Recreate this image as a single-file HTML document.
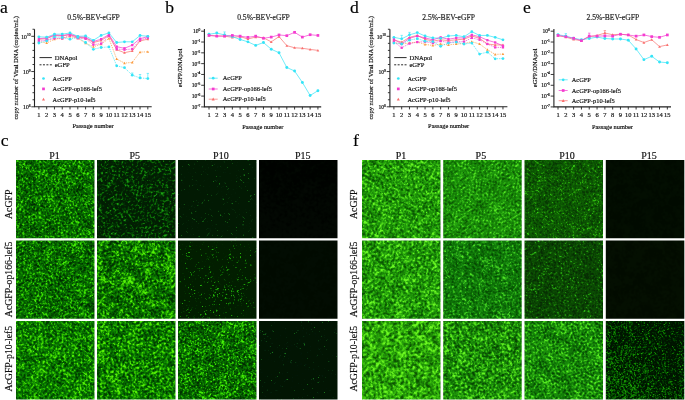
<!DOCTYPE html>
<html lang="en"><head><meta charset="utf-8"><title>Figure</title>
<style>
html,body{margin:0;padding:0;background:#fff;}
body{width:685px;height:400px;overflow:hidden;font-family:"Liberation Serif", "Times New Roman", serif;}
svg{display:block;}
</style></head><body>
<svg width="685" height="400" viewBox="0 0 685 400">
<rect width="685" height="400" fill="#fff"/>
<g font-family='"Liberation Serif", "Times New Roman", serif' stroke="#111" stroke-width="0.18">
<text x="0" y="13.1" font-size="17.6" text-anchor="start" fill="#000">a</text>
<text x="165.2" y="13.1" font-size="17.6" text-anchor="start" fill="#000">b</text>
<text x="350" y="13.1" font-size="17.6" text-anchor="start" fill="#000">d</text>
<text x="523" y="13.1" font-size="17.6" text-anchor="start" fill="#000">e</text>
<text x="0.8" y="145.8" font-size="17.6" text-anchor="start" fill="#000">c</text>
<text x="353" y="146" font-size="17.6" text-anchor="start" fill="#000">f</text>
<path d="M34.5 29.3V106.8H151.7" fill="none" stroke="#222" stroke-width="1.1"/>
<path d="M38.9 106.8v2.6M46.68 106.8v2.6M54.46 106.8v2.6M62.24 106.8v2.6M70.02 106.8v2.6M77.8 106.8v2.6M85.58 106.8v2.6M93.36 106.8v2.6M101.14 106.8v2.6M108.92 106.8v2.6M116.7 106.8v2.6M124.48 106.8v2.6M132.26 106.8v2.6M140.04 106.8v2.6M147.82 106.8v2.6M34.5 36.3h-3.2M34.5 71.55h-3.2M34.5 106.8h-3.2M34.5 29.25h-2M34.5 43.35h-2M34.5 50.4h-2M34.5 57.45h-2M34.5 64.5h-2M34.5 78.6h-2M34.5 85.65h-2M34.5 92.7h-2M34.5 99.75h-2" fill="none" stroke="#222" stroke-width="0.9"/>
<text x="38.9" y="116.5" font-size="6.5" text-anchor="middle" fill="#111">1</text>
<text x="46.68" y="116.5" font-size="6.5" text-anchor="middle" fill="#111">2</text>
<text x="54.46" y="116.5" font-size="6.5" text-anchor="middle" fill="#111">3</text>
<text x="62.24" y="116.5" font-size="6.5" text-anchor="middle" fill="#111">4</text>
<text x="70.02" y="116.5" font-size="6.5" text-anchor="middle" fill="#111">5</text>
<text x="77.8" y="116.5" font-size="6.5" text-anchor="middle" fill="#111">6</text>
<text x="85.58" y="116.5" font-size="6.5" text-anchor="middle" fill="#111">7</text>
<text x="93.36" y="116.5" font-size="6.5" text-anchor="middle" fill="#111">8</text>
<text x="101.14" y="116.5" font-size="6.5" text-anchor="middle" fill="#111">9</text>
<text x="108.92" y="116.5" font-size="6.5" text-anchor="middle" fill="#111">10</text>
<text x="116.7" y="116.5" font-size="6.5" text-anchor="middle" fill="#111">11</text>
<text x="124.48" y="116.5" font-size="6.5" text-anchor="middle" fill="#111">12</text>
<text x="132.26" y="116.5" font-size="6.5" text-anchor="middle" fill="#111">13</text>
<text x="140.04" y="116.5" font-size="6.5" text-anchor="middle" fill="#111">14</text>
<text x="147.82" y="116.5" font-size="6.5" text-anchor="middle" fill="#111">15</text>
<text x="30.5" y="38.5" font-size="5.6" text-anchor="end" fill="#111">10<tspan font-size="3.6" dy="-2.2">10</tspan></text>
<text x="30.5" y="73.75" font-size="5.6" text-anchor="end" fill="#111">10<tspan font-size="3.6" dy="-2.2">9</tspan></text>
<text x="30.5" y="109" font-size="5.6" text-anchor="end" fill="#111">10<tspan font-size="3.6" dy="-2.2">8</tspan></text>
<text x="93.1" y="128.4" font-size="6.35" text-anchor="middle" fill="#111">Passage number</text>
<text transform="translate(18.3 67.9) rotate(-90)" font-size="6.45" text-anchor="middle" fill="#111">copy number of Viral DNA (copies/mL)</text>
<text x="93.5" y="19.6" font-size="7.6" text-anchor="middle" fill="#333">0.5%-BEV-eGFP</text>
<polyline points="38.9,41.5 46.68,43 54.46,39.2 62.24,38.4 70.02,36.5 77.8,38.3 85.58,43.2 93.36,46.8 101.14,44.1 108.92,38.5 116.7,59 124.48,63.1 132.26,62.4 140.04,52.1 147.82,51.8" fill="none" stroke="#fb9a3c" stroke-width="0.7" stroke-dasharray="1.3 1"/>
<polyline points="38.9,43 46.68,40.8 54.46,36.8 62.24,37.5 70.02,39.2 77.8,37.4 85.58,42.5 93.36,49.3 101.14,47.5 108.92,46.9 116.7,65.8 124.48,67.7 132.26,75.2 140.04,77.9 147.82,78.6" fill="none" stroke="#35e4f7" stroke-width="0.7" stroke-dasharray="1.3 1"/>
<polyline points="38.9,41 46.68,40.3 54.46,38.3 62.24,38.5 70.02,35.5 77.8,38.2 85.58,38.8 93.36,44.7 101.14,43.6 108.92,35.9 116.7,49 124.48,49.7 132.26,49 140.04,40 147.82,37.8" fill="none" stroke="#f53bd0" stroke-width="0.7" stroke-dasharray="1.3 1"/>
<polyline points="38.9,39.3 46.68,38.7 54.46,35.5 62.24,36 70.02,34.6 77.8,37.3 85.58,38 93.36,42.5 101.14,40.5 108.92,35.4 116.7,49.7 124.48,52.7 132.26,51 140.04,40.9 147.82,39.2" fill="none" stroke="#f9706e" stroke-width="0.7"/>
<polyline points="38.9,36.8 46.68,37.2 54.46,34.2 62.24,34.1 70.02,33 77.8,36.3 85.58,36 93.36,40.3 101.14,35.4 108.92,32.9 116.7,42.5 124.48,41.8 132.26,41.8 140.04,35.5 147.82,36.3" fill="none" stroke="#35e4f7" stroke-width="0.7"/>
<polyline points="38.9,38.7 46.68,38 54.46,35 62.24,35.5 70.02,34.2 77.8,36.8 85.58,37.4 93.36,41.5 101.14,39.2 108.92,34.6 116.7,46.7 124.48,48.3 132.26,45.1 140.04,38.7 147.82,36.6" fill="none" stroke="#f53bd0" stroke-width="0.7"/>
<path d="M38.9 40.12l1.32 2.42h-2.64z" fill="#fb9a3c" stroke="none"/>
<path d="M46.68 41.62l1.32 2.42h-2.64z" fill="#fb9a3c" stroke="none"/>
<path d="M54.46 37.82l1.32 2.42h-2.64z" fill="#fb9a3c" stroke="none"/>
<path d="M62.24 37.02l1.32 2.42h-2.64z" fill="#fb9a3c" stroke="none"/>
<path d="M70.02 35.12l1.32 2.42h-2.64z" fill="#fb9a3c" stroke="none"/>
<path d="M77.8 36.92l1.32 2.42h-2.64z" fill="#fb9a3c" stroke="none"/>
<path d="M85.58 41.82l1.32 2.42h-2.64z" fill="#fb9a3c" stroke="none"/>
<path d="M93.36 45.42l1.32 2.42h-2.64z" fill="#fb9a3c" stroke="none"/>
<path d="M101.14 42.72l1.32 2.42h-2.64z" fill="#fb9a3c" stroke="none"/>
<path d="M108.92 37.12l1.32 2.42h-2.64z" fill="#fb9a3c" stroke="none"/>
<path d="M116.7 57.62l1.32 2.42h-2.64z" fill="#fb9a3c" stroke="none"/>
<path d="M124.48 61.72l1.32 2.42h-2.64z" fill="#fb9a3c" stroke="none"/>
<path d="M132.26 61.02l1.32 2.42h-2.64z" fill="#fb9a3c" stroke="none"/>
<path d="M140.04 50.72l1.32 2.42h-2.64z" fill="#fb9a3c" stroke="none"/>
<path d="M147.82 50.42l1.32 2.42h-2.64z" fill="#fb9a3c" stroke="none"/>
<path d="M38.9 37.92l1.32 2.42h-2.64z" fill="#f9706e" stroke="none"/>
<path d="M46.68 37.32l1.32 2.42h-2.64z" fill="#f9706e" stroke="none"/>
<path d="M54.46 34.12l1.32 2.42h-2.64z" fill="#f9706e" stroke="none"/>
<path d="M62.24 34.62l1.32 2.42h-2.64z" fill="#f9706e" stroke="none"/>
<path d="M70.02 33.22l1.32 2.42h-2.64z" fill="#f9706e" stroke="none"/>
<path d="M77.8 35.92l1.32 2.42h-2.64z" fill="#f9706e" stroke="none"/>
<path d="M85.58 36.62l1.32 2.42h-2.64z" fill="#f9706e" stroke="none"/>
<path d="M93.36 41.12l1.32 2.42h-2.64z" fill="#f9706e" stroke="none"/>
<path d="M101.14 39.12l1.32 2.42h-2.64z" fill="#f9706e" stroke="none"/>
<path d="M108.92 34.02l1.32 2.42h-2.64z" fill="#f9706e" stroke="none"/>
<path d="M116.7 48.32l1.32 2.42h-2.64z" fill="#f9706e" stroke="none"/>
<path d="M124.48 51.32l1.32 2.42h-2.64z" fill="#f9706e" stroke="none"/>
<path d="M132.26 49.62l1.32 2.42h-2.64z" fill="#f9706e" stroke="none"/>
<path d="M140.04 39.52l1.32 2.42h-2.64z" fill="#f9706e" stroke="none"/>
<path d="M147.82 37.82l1.32 2.42h-2.64z" fill="#f9706e" stroke="none"/>
<rect x="37.75" y="39.85" width="2.3" height="2.3" fill="#f53bd0" stroke="none"/>
<rect x="45.53" y="39.15" width="2.3" height="2.3" fill="#f53bd0" stroke="none"/>
<rect x="53.31" y="37.15" width="2.3" height="2.3" fill="#f53bd0" stroke="none"/>
<rect x="61.09" y="37.35" width="2.3" height="2.3" fill="#f53bd0" stroke="none"/>
<rect x="68.87" y="34.35" width="2.3" height="2.3" fill="#f53bd0" stroke="none"/>
<rect x="76.65" y="37.05" width="2.3" height="2.3" fill="#f53bd0" stroke="none"/>
<rect x="84.43" y="37.65" width="2.3" height="2.3" fill="#f53bd0" stroke="none"/>
<rect x="92.21" y="43.55" width="2.3" height="2.3" fill="#f53bd0" stroke="none"/>
<rect x="99.99" y="42.45" width="2.3" height="2.3" fill="#f53bd0" stroke="none"/>
<rect x="107.77" y="34.75" width="2.3" height="2.3" fill="#f53bd0" stroke="none"/>
<rect x="115.55" y="47.85" width="2.3" height="2.3" fill="#f53bd0" stroke="none"/>
<rect x="123.33" y="48.55" width="2.3" height="2.3" fill="#f53bd0" stroke="none"/>
<rect x="131.11" y="47.85" width="2.3" height="2.3" fill="#f53bd0" stroke="none"/>
<rect x="138.89" y="38.85" width="2.3" height="2.3" fill="#f53bd0" stroke="none"/>
<rect x="146.67" y="36.65" width="2.3" height="2.3" fill="#f53bd0" stroke="none"/>
<rect x="37.75" y="37.55" width="2.3" height="2.3" fill="#f53bd0" stroke="none"/>
<rect x="45.53" y="36.85" width="2.3" height="2.3" fill="#f53bd0" stroke="none"/>
<rect x="53.31" y="33.85" width="2.3" height="2.3" fill="#f53bd0" stroke="none"/>
<rect x="61.09" y="34.35" width="2.3" height="2.3" fill="#f53bd0" stroke="none"/>
<rect x="68.87" y="33.05" width="2.3" height="2.3" fill="#f53bd0" stroke="none"/>
<rect x="76.65" y="35.65" width="2.3" height="2.3" fill="#f53bd0" stroke="none"/>
<rect x="84.43" y="36.25" width="2.3" height="2.3" fill="#f53bd0" stroke="none"/>
<rect x="92.21" y="40.35" width="2.3" height="2.3" fill="#f53bd0" stroke="none"/>
<rect x="99.99" y="38.05" width="2.3" height="2.3" fill="#f53bd0" stroke="none"/>
<rect x="107.77" y="33.45" width="2.3" height="2.3" fill="#f53bd0" stroke="none"/>
<rect x="115.55" y="45.55" width="2.3" height="2.3" fill="#f53bd0" stroke="none"/>
<rect x="123.33" y="47.15" width="2.3" height="2.3" fill="#f53bd0" stroke="none"/>
<rect x="131.11" y="43.95" width="2.3" height="2.3" fill="#f53bd0" stroke="none"/>
<rect x="138.89" y="37.55" width="2.3" height="2.3" fill="#f53bd0" stroke="none"/>
<rect x="146.67" y="35.45" width="2.3" height="2.3" fill="#f53bd0" stroke="none"/>
<circle cx="38.9" cy="43" r="1.4" fill="#35e4f7" stroke="none"/>
<circle cx="46.68" cy="40.8" r="1.4" fill="#35e4f7" stroke="none"/>
<circle cx="54.46" cy="36.8" r="1.4" fill="#35e4f7" stroke="none"/>
<circle cx="62.24" cy="37.5" r="1.4" fill="#35e4f7" stroke="none"/>
<circle cx="70.02" cy="39.2" r="1.4" fill="#35e4f7" stroke="none"/>
<circle cx="77.8" cy="37.4" r="1.4" fill="#35e4f7" stroke="none"/>
<circle cx="85.58" cy="42.5" r="1.4" fill="#35e4f7" stroke="none"/>
<circle cx="93.36" cy="49.3" r="1.4" fill="#35e4f7" stroke="none"/>
<circle cx="101.14" cy="47.5" r="1.4" fill="#35e4f7" stroke="none"/>
<circle cx="108.92" cy="46.9" r="1.4" fill="#35e4f7" stroke="none"/>
<circle cx="116.7" cy="65.8" r="1.4" fill="#35e4f7" stroke="none"/>
<circle cx="124.48" cy="67.7" r="1.4" fill="#35e4f7" stroke="none"/>
<circle cx="132.26" cy="75.2" r="1.4" fill="#35e4f7" stroke="none"/>
<circle cx="140.04" cy="77.9" r="1.4" fill="#35e4f7" stroke="none"/>
<circle cx="147.82" cy="78.6" r="1.4" fill="#35e4f7" stroke="none"/>
<circle cx="38.9" cy="36.8" r="1.4" fill="#35e4f7" stroke="none"/>
<circle cx="46.68" cy="37.2" r="1.4" fill="#35e4f7" stroke="none"/>
<circle cx="54.46" cy="34.2" r="1.4" fill="#35e4f7" stroke="none"/>
<circle cx="62.24" cy="34.1" r="1.4" fill="#35e4f7" stroke="none"/>
<circle cx="70.02" cy="33" r="1.4" fill="#35e4f7" stroke="none"/>
<circle cx="77.8" cy="36.3" r="1.4" fill="#35e4f7" stroke="none"/>
<circle cx="85.58" cy="36" r="1.4" fill="#35e4f7" stroke="none"/>
<circle cx="93.36" cy="40.3" r="1.4" fill="#35e4f7" stroke="none"/>
<circle cx="101.14" cy="35.4" r="1.4" fill="#35e4f7" stroke="none"/>
<circle cx="108.92" cy="32.9" r="1.4" fill="#35e4f7" stroke="none"/>
<circle cx="116.7" cy="42.5" r="1.4" fill="#35e4f7" stroke="none"/>
<circle cx="124.48" cy="41.8" r="1.4" fill="#35e4f7" stroke="none"/>
<circle cx="132.26" cy="41.8" r="1.4" fill="#35e4f7" stroke="none"/>
<circle cx="140.04" cy="35.5" r="1.4" fill="#35e4f7" stroke="none"/>
<circle cx="147.82" cy="36.3" r="1.4" fill="#35e4f7" stroke="none"/>
<path d="M39.5 57.6h12.4" stroke="#111" stroke-width="0.9"/>
<path d="M39.5 64.8h12.4" stroke="#111" stroke-width="0.9" stroke-dasharray="2 1.45"/>
<text x="54.7" y="59.8" font-size="6.6" text-anchor="start" fill="#111">DNApol</text>
<text x="54.7" y="67" font-size="6.6" text-anchor="start" fill="#111">eGFP</text>
<circle cx="43.5" cy="78.5" r="1.35" fill="#35e4f7" stroke="none"/>
<text x="52.6" y="80.6" font-size="6.4" text-anchor="start" fill="#111">AcGFP</text>
<rect x="42.15" y="87.55" width="2.7" height="2.7" fill="#f53bd0" stroke="none"/>
<text x="52.6" y="91" font-size="6.4" text-anchor="start" fill="#111">AcGFP-op166-lef5</text>
<path d="M43.5 97.78l1.55 2.84h-3.1z" fill="#f9706e" stroke="none"/>
<text x="52.6" y="101.5" font-size="6.4" text-anchor="start" fill="#111">AcGFP-p10-lef5</text>
<path d="M132.26 75.2V73M131.06 73h2.4" stroke="#35e4f7" stroke-width="0.6" fill="none"/>
<path d="M140.04 77.9V74.5M138.84 74.5h2.4" stroke="#35e4f7" stroke-width="0.6" fill="none"/>
<path d="M147.82 78.6V73.4M146.62 73.4h2.4" stroke="#35e4f7" stroke-width="0.6" fill="none"/>
<path d="M204.4 29V106.9H321.2" fill="none" stroke="#222" stroke-width="1.1"/>
<path d="M209 106.9v2.6M216.78 106.9v2.6M224.56 106.9v2.6M232.34 106.9v2.6M240.12 106.9v2.6M247.9 106.9v2.6M255.68 106.9v2.6M263.46 106.9v2.6M271.24 106.9v2.6M279.02 106.9v2.6M286.8 106.9v2.6M294.58 106.9v2.6M302.36 106.9v2.6M310.14 106.9v2.6M317.92 106.9v2.6M204.4 31.2h-3.2M204.4 42.02h-3.2M204.4 52.83h-3.2M204.4 63.64h-3.2M204.4 74.46h-3.2M204.4 85.27h-3.2M204.4 96.09h-3.2M204.4 106.91h-3.2" fill="none" stroke="#222" stroke-width="0.9"/>
<text x="209" y="116.6" font-size="6.5" text-anchor="middle" fill="#111">1</text>
<text x="216.78" y="116.6" font-size="6.5" text-anchor="middle" fill="#111">2</text>
<text x="224.56" y="116.6" font-size="6.5" text-anchor="middle" fill="#111">3</text>
<text x="232.34" y="116.6" font-size="6.5" text-anchor="middle" fill="#111">4</text>
<text x="240.12" y="116.6" font-size="6.5" text-anchor="middle" fill="#111">5</text>
<text x="247.9" y="116.6" font-size="6.5" text-anchor="middle" fill="#111">6</text>
<text x="255.68" y="116.6" font-size="6.5" text-anchor="middle" fill="#111">7</text>
<text x="263.46" y="116.6" font-size="6.5" text-anchor="middle" fill="#111">8</text>
<text x="271.24" y="116.6" font-size="6.5" text-anchor="middle" fill="#111">9</text>
<text x="279.02" y="116.6" font-size="6.5" text-anchor="middle" fill="#111">10</text>
<text x="286.8" y="116.6" font-size="6.5" text-anchor="middle" fill="#111">11</text>
<text x="294.58" y="116.6" font-size="6.5" text-anchor="middle" fill="#111">12</text>
<text x="302.36" y="116.6" font-size="6.5" text-anchor="middle" fill="#111">13</text>
<text x="310.14" y="116.6" font-size="6.5" text-anchor="middle" fill="#111">14</text>
<text x="317.92" y="116.6" font-size="6.5" text-anchor="middle" fill="#111">15</text>
<text x="200.4" y="33.4" font-size="5.6" text-anchor="end" fill="#111">10<tspan font-size="3.6" dy="-2.2">0</tspan></text>
<text x="200.4" y="44.22" font-size="5.6" text-anchor="end" fill="#111">10<tspan font-size="3.6" dy="-2.2">-1</tspan></text>
<text x="200.4" y="55.03" font-size="5.6" text-anchor="end" fill="#111">10<tspan font-size="3.6" dy="-2.2">-2</tspan></text>
<text x="200.4" y="65.84" font-size="5.6" text-anchor="end" fill="#111">10<tspan font-size="3.6" dy="-2.2">-3</tspan></text>
<text x="200.4" y="76.66" font-size="5.6" text-anchor="end" fill="#111">10<tspan font-size="3.6" dy="-2.2">-4</tspan></text>
<text x="200.4" y="87.47" font-size="5.6" text-anchor="end" fill="#111">10<tspan font-size="3.6" dy="-2.2">-5</tspan></text>
<text x="200.4" y="98.29" font-size="5.6" text-anchor="end" fill="#111">10<tspan font-size="3.6" dy="-2.2">-6</tspan></text>
<text x="200.4" y="109.11" font-size="5.6" text-anchor="end" fill="#111">10<tspan font-size="3.6" dy="-2.2">-7</tspan></text>
<text x="262.8" y="128.5" font-size="6.35" text-anchor="middle" fill="#111">Passage number</text>
<text transform="translate(181.5 67.9) rotate(-90)" font-size="6.45" text-anchor="middle" fill="#111">eGFP/DNApol</text>
<text x="263.5" y="19.6" font-size="7.6" text-anchor="middle" fill="#333">0.5%-BEV-eGFP</text>
<polyline points="209,35.43 216.78,35.9 224.56,36.14 232.34,37.33 240.12,36.62 247.9,38.99 255.68,37.09 263.46,37.8 271.24,41.84 279.02,36.62 286.8,45.63 294.58,47.77 302.36,48.25 310.14,49.43 317.92,50.38" fill="none" stroke="#f9706e" stroke-width="0.7"/>
<polyline points="209,34.24 216.78,33.05 224.56,34.95 232.34,36.62 240.12,39.46 247.9,41.84 255.68,45.4 263.46,42.55 271.24,49.2 279.02,52.76 286.8,67.47 294.58,71.03 302.36,82.43 310.14,95.48 317.92,90.73" fill="none" stroke="#35e4f7" stroke-width="0.7"/>
<polyline points="209,35.43 216.78,36.14 224.56,36.14 232.34,35.43 240.12,36.14 247.9,37.33 255.68,36.14 263.46,38.28 271.24,37.09 279.02,34.95 286.8,35.67 294.58,32.34 302.36,37.09 310.14,34.72 317.92,35.43" fill="none" stroke="#f53bd0" stroke-width="0.7"/>
<path d="M209 33.99l1.38 2.52h-2.76z" fill="#f9706e" stroke="none"/>
<path d="M216.78 34.46l1.38 2.52h-2.76z" fill="#f9706e" stroke="none"/>
<path d="M224.56 34.7l1.38 2.52h-2.76z" fill="#f9706e" stroke="none"/>
<path d="M232.34 35.89l1.38 2.52h-2.76z" fill="#f9706e" stroke="none"/>
<path d="M240.12 35.18l1.38 2.52h-2.76z" fill="#f9706e" stroke="none"/>
<path d="M247.9 37.55l1.38 2.52h-2.76z" fill="#f9706e" stroke="none"/>
<path d="M255.68 35.65l1.38 2.52h-2.76z" fill="#f9706e" stroke="none"/>
<path d="M263.46 36.36l1.38 2.52h-2.76z" fill="#f9706e" stroke="none"/>
<path d="M271.24 40.4l1.38 2.52h-2.76z" fill="#f9706e" stroke="none"/>
<path d="M279.02 35.18l1.38 2.52h-2.76z" fill="#f9706e" stroke="none"/>
<path d="M286.8 44.19l1.38 2.52h-2.76z" fill="#f9706e" stroke="none"/>
<path d="M294.58 46.33l1.38 2.52h-2.76z" fill="#f9706e" stroke="none"/>
<path d="M302.36 46.81l1.38 2.52h-2.76z" fill="#f9706e" stroke="none"/>
<path d="M310.14 47.99l1.38 2.52h-2.76z" fill="#f9706e" stroke="none"/>
<path d="M317.92 48.94l1.38 2.52h-2.76z" fill="#f9706e" stroke="none"/>
<circle cx="209" cy="34.24" r="1.45" fill="#35e4f7" stroke="none"/>
<circle cx="216.78" cy="33.05" r="1.45" fill="#35e4f7" stroke="none"/>
<circle cx="224.56" cy="34.95" r="1.45" fill="#35e4f7" stroke="none"/>
<circle cx="232.34" cy="36.62" r="1.45" fill="#35e4f7" stroke="none"/>
<circle cx="240.12" cy="39.46" r="1.45" fill="#35e4f7" stroke="none"/>
<circle cx="247.9" cy="41.84" r="1.45" fill="#35e4f7" stroke="none"/>
<circle cx="255.68" cy="45.4" r="1.45" fill="#35e4f7" stroke="none"/>
<circle cx="263.46" cy="42.55" r="1.45" fill="#35e4f7" stroke="none"/>
<circle cx="271.24" cy="49.2" r="1.45" fill="#35e4f7" stroke="none"/>
<circle cx="279.02" cy="52.76" r="1.45" fill="#35e4f7" stroke="none"/>
<circle cx="286.8" cy="67.47" r="1.45" fill="#35e4f7" stroke="none"/>
<circle cx="294.58" cy="71.03" r="1.45" fill="#35e4f7" stroke="none"/>
<circle cx="302.36" cy="82.43" r="1.45" fill="#35e4f7" stroke="none"/>
<circle cx="310.14" cy="95.48" r="1.45" fill="#35e4f7" stroke="none"/>
<circle cx="317.92" cy="90.73" r="1.45" fill="#35e4f7" stroke="none"/>
<rect x="207.65" y="34.08" width="2.7" height="2.7" fill="#f53bd0" stroke="none"/>
<rect x="215.43" y="34.79" width="2.7" height="2.7" fill="#f53bd0" stroke="none"/>
<rect x="223.21" y="34.79" width="2.7" height="2.7" fill="#f53bd0" stroke="none"/>
<rect x="230.99" y="34.08" width="2.7" height="2.7" fill="#f53bd0" stroke="none"/>
<rect x="238.77" y="34.79" width="2.7" height="2.7" fill="#f53bd0" stroke="none"/>
<rect x="246.55" y="35.98" width="2.7" height="2.7" fill="#f53bd0" stroke="none"/>
<rect x="254.33" y="34.79" width="2.7" height="2.7" fill="#f53bd0" stroke="none"/>
<rect x="262.11" y="36.93" width="2.7" height="2.7" fill="#f53bd0" stroke="none"/>
<rect x="269.89" y="35.74" width="2.7" height="2.7" fill="#f53bd0" stroke="none"/>
<rect x="277.67" y="33.6" width="2.7" height="2.7" fill="#f53bd0" stroke="none"/>
<rect x="285.45" y="34.32" width="2.7" height="2.7" fill="#f53bd0" stroke="none"/>
<rect x="293.23" y="30.99" width="2.7" height="2.7" fill="#f53bd0" stroke="none"/>
<rect x="301.01" y="35.74" width="2.7" height="2.7" fill="#f53bd0" stroke="none"/>
<rect x="308.79" y="33.37" width="2.7" height="2.7" fill="#f53bd0" stroke="none"/>
<rect x="316.57" y="34.08" width="2.7" height="2.7" fill="#f53bd0" stroke="none"/>
<path d="M208.7 78.2h9" stroke="#35e4f7" stroke-width="0.7"/>
<circle cx="213.2" cy="78.2" r="1.35" fill="#35e4f7" stroke="none"/>
<text x="222.7" y="80.3" font-size="6.4" text-anchor="start" fill="#111">AcGFP</text>
<path d="M208.7 89h9" stroke="#f53bd0" stroke-width="0.7"/>
<rect x="211.85" y="87.65" width="2.7" height="2.7" fill="#f53bd0" stroke="none"/>
<text x="222.7" y="91.1" font-size="6.4" text-anchor="start" fill="#111">AcGFP-op166-lef5</text>
<path d="M208.7 99.2h9" stroke="#f9706e" stroke-width="0.7"/>
<path d="M213.2 97.58l1.55 2.84h-3.1z" fill="#f9706e" stroke="none"/>
<text x="222.7" y="101.3" font-size="6.4" text-anchor="start" fill="#111">AcGFP-p10-lef5</text>
<path d="M224.56 34.95V31.95M223.36 31.95h2.4" stroke="#35e4f7" stroke-width="0.6" fill="none"/>
<path d="M389.9 29.3V106.8H507.4" fill="none" stroke="#222" stroke-width="1.1"/>
<path d="M393.9 106.8v2.6M401.69 106.8v2.6M409.48 106.8v2.6M417.27 106.8v2.6M425.06 106.8v2.6M432.85 106.8v2.6M440.64 106.8v2.6M448.43 106.8v2.6M456.22 106.8v2.6M464.01 106.8v2.6M471.8 106.8v2.6M479.59 106.8v2.6M487.38 106.8v2.6M495.17 106.8v2.6M502.96 106.8v2.6M389.9 36.3h-3.2M389.9 71.55h-3.2M389.9 106.8h-3.2M389.9 29.25h-2M389.9 43.35h-2M389.9 50.4h-2M389.9 57.45h-2M389.9 64.5h-2M389.9 78.6h-2M389.9 85.65h-2M389.9 92.7h-2M389.9 99.75h-2" fill="none" stroke="#222" stroke-width="0.9"/>
<text x="393.9" y="116.5" font-size="6.5" text-anchor="middle" fill="#111">1</text>
<text x="401.69" y="116.5" font-size="6.5" text-anchor="middle" fill="#111">2</text>
<text x="409.48" y="116.5" font-size="6.5" text-anchor="middle" fill="#111">3</text>
<text x="417.27" y="116.5" font-size="6.5" text-anchor="middle" fill="#111">4</text>
<text x="425.06" y="116.5" font-size="6.5" text-anchor="middle" fill="#111">5</text>
<text x="432.85" y="116.5" font-size="6.5" text-anchor="middle" fill="#111">6</text>
<text x="440.64" y="116.5" font-size="6.5" text-anchor="middle" fill="#111">7</text>
<text x="448.43" y="116.5" font-size="6.5" text-anchor="middle" fill="#111">8</text>
<text x="456.22" y="116.5" font-size="6.5" text-anchor="middle" fill="#111">9</text>
<text x="464.01" y="116.5" font-size="6.5" text-anchor="middle" fill="#111">10</text>
<text x="471.8" y="116.5" font-size="6.5" text-anchor="middle" fill="#111">11</text>
<text x="479.59" y="116.5" font-size="6.5" text-anchor="middle" fill="#111">12</text>
<text x="487.38" y="116.5" font-size="6.5" text-anchor="middle" fill="#111">13</text>
<text x="495.17" y="116.5" font-size="6.5" text-anchor="middle" fill="#111">14</text>
<text x="502.96" y="116.5" font-size="6.5" text-anchor="middle" fill="#111">15</text>
<text x="385.9" y="38.5" font-size="5.6" text-anchor="end" fill="#111">10<tspan font-size="3.6" dy="-2.2">10</tspan></text>
<text x="385.9" y="73.75" font-size="5.6" text-anchor="end" fill="#111">10<tspan font-size="3.6" dy="-2.2">9</tspan></text>
<text x="385.9" y="109" font-size="5.6" text-anchor="end" fill="#111">10<tspan font-size="3.6" dy="-2.2">8</tspan></text>
<text x="448.65" y="128.4" font-size="6.35" text-anchor="middle" fill="#111">Passage number</text>
<text transform="translate(373 67.9) rotate(-90)" font-size="6.45" text-anchor="middle" fill="#111">copy number of Viral DNA (copies/mL)</text>
<text x="448.6" y="19.6" font-size="7.6" text-anchor="middle" fill="#333">2.5%-BEV-eGFP</text>
<polyline points="393.9,42.46 401.69,43.98 409.48,43.03 417.27,42.08 425.06,44.35 432.85,45.49 440.64,43.98 448.43,44.92 456.22,43.98 464.01,43.6 471.8,41.7 479.59,43.98 487.38,49.67 495.17,54.41 502.96,54.03" fill="none" stroke="#fb9a3c" stroke-width="0.7" stroke-dasharray="1.3 1"/>
<polyline points="393.9,43.03 401.69,43.98 409.48,40.18 417.27,38.66 425.06,41.13 432.85,41.7 440.64,46.25 448.43,43.03 456.22,42.08 464.01,43.98 471.8,43.03 479.59,54.03 487.38,52.13 495.17,58.78 502.96,58.59" fill="none" stroke="#35e4f7" stroke-width="0.7" stroke-dasharray="1.3 1"/>
<polyline points="393.9,41.7 401.69,47.77 409.48,43.6 417.27,42.08 425.06,41.7 432.85,43.03 440.64,41.13 448.43,42.46 456.22,41.7 464.01,41.7 471.8,37.9 479.59,39.8 487.38,43.98 495.17,47.39 502.96,47.39" fill="none" stroke="#f53bd0" stroke-width="0.7" stroke-dasharray="1.3 1"/>
<polyline points="393.9,40.18 401.69,42.08 409.48,37.33 417.27,35.44 425.06,39.23 432.85,41.13 440.64,39.8 448.43,40.56 456.22,39.8 464.01,39.23 471.8,36.01 479.59,38.28 487.38,43.98 495.17,44.92 502.96,44.92" fill="none" stroke="#f9706e" stroke-width="0.7"/>
<polyline points="393.9,37.33 401.69,38.85 409.48,34.87 417.27,32.59 425.06,36.01 432.85,37.9 440.64,38.28 448.43,36.01 456.22,35.44 464.01,36.76 471.8,31.64 479.59,35.44 487.38,35.44 495.17,37.33 502.96,39.8" fill="none" stroke="#35e4f7" stroke-width="0.7"/>
<polyline points="393.9,39.23 401.69,43.98 409.48,38.28 417.27,36.01 425.06,37.9 432.85,39.8 440.64,37.33 448.43,39.23 456.22,37.9 464.01,37.9 471.8,34.87 479.59,36.76 487.38,40.18 495.17,42.46 502.96,45.87" fill="none" stroke="#f53bd0" stroke-width="0.7"/>
<path d="M393.9 41.08l1.32 2.42h-2.64z" fill="#fb9a3c" stroke="none"/>
<path d="M401.69 42.6l1.32 2.42h-2.64z" fill="#fb9a3c" stroke="none"/>
<path d="M409.48 41.65l1.32 2.42h-2.64z" fill="#fb9a3c" stroke="none"/>
<path d="M417.27 40.7l1.32 2.42h-2.64z" fill="#fb9a3c" stroke="none"/>
<path d="M425.06 42.97l1.32 2.42h-2.64z" fill="#fb9a3c" stroke="none"/>
<path d="M432.85 44.11l1.32 2.42h-2.64z" fill="#fb9a3c" stroke="none"/>
<path d="M440.64 42.6l1.32 2.42h-2.64z" fill="#fb9a3c" stroke="none"/>
<path d="M448.43 43.54l1.32 2.42h-2.64z" fill="#fb9a3c" stroke="none"/>
<path d="M456.22 42.6l1.32 2.42h-2.64z" fill="#fb9a3c" stroke="none"/>
<path d="M464.01 42.22l1.32 2.42h-2.64z" fill="#fb9a3c" stroke="none"/>
<path d="M471.8 40.32l1.32 2.42h-2.64z" fill="#fb9a3c" stroke="none"/>
<path d="M479.59 42.6l1.32 2.42h-2.64z" fill="#fb9a3c" stroke="none"/>
<path d="M487.38 48.29l1.32 2.42h-2.64z" fill="#fb9a3c" stroke="none"/>
<path d="M495.17 53.03l1.32 2.42h-2.64z" fill="#fb9a3c" stroke="none"/>
<path d="M502.96 52.65l1.32 2.42h-2.64z" fill="#fb9a3c" stroke="none"/>
<path d="M393.9 38.8l1.32 2.42h-2.64z" fill="#f9706e" stroke="none"/>
<path d="M401.69 40.7l1.32 2.42h-2.64z" fill="#f9706e" stroke="none"/>
<path d="M409.48 35.95l1.32 2.42h-2.64z" fill="#f9706e" stroke="none"/>
<path d="M417.27 34.06l1.32 2.42h-2.64z" fill="#f9706e" stroke="none"/>
<path d="M425.06 37.85l1.32 2.42h-2.64z" fill="#f9706e" stroke="none"/>
<path d="M432.85 39.75l1.32 2.42h-2.64z" fill="#f9706e" stroke="none"/>
<path d="M440.64 38.42l1.32 2.42h-2.64z" fill="#f9706e" stroke="none"/>
<path d="M448.43 39.18l1.32 2.42h-2.64z" fill="#f9706e" stroke="none"/>
<path d="M456.22 38.42l1.32 2.42h-2.64z" fill="#f9706e" stroke="none"/>
<path d="M464.01 37.85l1.32 2.42h-2.64z" fill="#f9706e" stroke="none"/>
<path d="M471.8 34.63l1.32 2.42h-2.64z" fill="#f9706e" stroke="none"/>
<path d="M479.59 36.9l1.32 2.42h-2.64z" fill="#f9706e" stroke="none"/>
<path d="M487.38 42.6l1.32 2.42h-2.64z" fill="#f9706e" stroke="none"/>
<path d="M495.17 43.54l1.32 2.42h-2.64z" fill="#f9706e" stroke="none"/>
<path d="M502.96 43.54l1.32 2.42h-2.64z" fill="#f9706e" stroke="none"/>
<rect x="392.75" y="40.55" width="2.3" height="2.3" fill="#f53bd0" stroke="none"/>
<rect x="400.54" y="46.62" width="2.3" height="2.3" fill="#f53bd0" stroke="none"/>
<rect x="408.33" y="42.45" width="2.3" height="2.3" fill="#f53bd0" stroke="none"/>
<rect x="416.12" y="40.93" width="2.3" height="2.3" fill="#f53bd0" stroke="none"/>
<rect x="423.91" y="40.55" width="2.3" height="2.3" fill="#f53bd0" stroke="none"/>
<rect x="431.7" y="41.88" width="2.3" height="2.3" fill="#f53bd0" stroke="none"/>
<rect x="439.49" y="39.98" width="2.3" height="2.3" fill="#f53bd0" stroke="none"/>
<rect x="447.28" y="41.31" width="2.3" height="2.3" fill="#f53bd0" stroke="none"/>
<rect x="455.07" y="40.55" width="2.3" height="2.3" fill="#f53bd0" stroke="none"/>
<rect x="462.86" y="40.55" width="2.3" height="2.3" fill="#f53bd0" stroke="none"/>
<rect x="470.65" y="36.75" width="2.3" height="2.3" fill="#f53bd0" stroke="none"/>
<rect x="478.44" y="38.65" width="2.3" height="2.3" fill="#f53bd0" stroke="none"/>
<rect x="486.23" y="42.83" width="2.3" height="2.3" fill="#f53bd0" stroke="none"/>
<rect x="494.02" y="46.24" width="2.3" height="2.3" fill="#f53bd0" stroke="none"/>
<rect x="501.81" y="46.24" width="2.3" height="2.3" fill="#f53bd0" stroke="none"/>
<rect x="392.75" y="38.08" width="2.3" height="2.3" fill="#f53bd0" stroke="none"/>
<rect x="400.54" y="42.83" width="2.3" height="2.3" fill="#f53bd0" stroke="none"/>
<rect x="408.33" y="37.13" width="2.3" height="2.3" fill="#f53bd0" stroke="none"/>
<rect x="416.12" y="34.86" width="2.3" height="2.3" fill="#f53bd0" stroke="none"/>
<rect x="423.91" y="36.75" width="2.3" height="2.3" fill="#f53bd0" stroke="none"/>
<rect x="431.7" y="38.65" width="2.3" height="2.3" fill="#f53bd0" stroke="none"/>
<rect x="439.49" y="36.18" width="2.3" height="2.3" fill="#f53bd0" stroke="none"/>
<rect x="447.28" y="38.08" width="2.3" height="2.3" fill="#f53bd0" stroke="none"/>
<rect x="455.07" y="36.75" width="2.3" height="2.3" fill="#f53bd0" stroke="none"/>
<rect x="462.86" y="36.75" width="2.3" height="2.3" fill="#f53bd0" stroke="none"/>
<rect x="470.65" y="33.72" width="2.3" height="2.3" fill="#f53bd0" stroke="none"/>
<rect x="478.44" y="35.61" width="2.3" height="2.3" fill="#f53bd0" stroke="none"/>
<rect x="486.23" y="39.03" width="2.3" height="2.3" fill="#f53bd0" stroke="none"/>
<rect x="494.02" y="41.31" width="2.3" height="2.3" fill="#f53bd0" stroke="none"/>
<rect x="501.81" y="44.72" width="2.3" height="2.3" fill="#f53bd0" stroke="none"/>
<circle cx="393.9" cy="43.03" r="1.4" fill="#35e4f7" stroke="none"/>
<circle cx="401.69" cy="43.98" r="1.4" fill="#35e4f7" stroke="none"/>
<circle cx="409.48" cy="40.18" r="1.4" fill="#35e4f7" stroke="none"/>
<circle cx="417.27" cy="38.66" r="1.4" fill="#35e4f7" stroke="none"/>
<circle cx="425.06" cy="41.13" r="1.4" fill="#35e4f7" stroke="none"/>
<circle cx="432.85" cy="41.7" r="1.4" fill="#35e4f7" stroke="none"/>
<circle cx="440.64" cy="46.25" r="1.4" fill="#35e4f7" stroke="none"/>
<circle cx="448.43" cy="43.03" r="1.4" fill="#35e4f7" stroke="none"/>
<circle cx="456.22" cy="42.08" r="1.4" fill="#35e4f7" stroke="none"/>
<circle cx="464.01" cy="43.98" r="1.4" fill="#35e4f7" stroke="none"/>
<circle cx="471.8" cy="43.03" r="1.4" fill="#35e4f7" stroke="none"/>
<circle cx="479.59" cy="54.03" r="1.4" fill="#35e4f7" stroke="none"/>
<circle cx="487.38" cy="52.13" r="1.4" fill="#35e4f7" stroke="none"/>
<circle cx="495.17" cy="58.78" r="1.4" fill="#35e4f7" stroke="none"/>
<circle cx="502.96" cy="58.59" r="1.4" fill="#35e4f7" stroke="none"/>
<circle cx="393.9" cy="37.33" r="1.4" fill="#35e4f7" stroke="none"/>
<circle cx="401.69" cy="38.85" r="1.4" fill="#35e4f7" stroke="none"/>
<circle cx="409.48" cy="34.87" r="1.4" fill="#35e4f7" stroke="none"/>
<circle cx="417.27" cy="32.59" r="1.4" fill="#35e4f7" stroke="none"/>
<circle cx="425.06" cy="36.01" r="1.4" fill="#35e4f7" stroke="none"/>
<circle cx="432.85" cy="37.9" r="1.4" fill="#35e4f7" stroke="none"/>
<circle cx="440.64" cy="38.28" r="1.4" fill="#35e4f7" stroke="none"/>
<circle cx="448.43" cy="36.01" r="1.4" fill="#35e4f7" stroke="none"/>
<circle cx="456.22" cy="35.44" r="1.4" fill="#35e4f7" stroke="none"/>
<circle cx="464.01" cy="36.76" r="1.4" fill="#35e4f7" stroke="none"/>
<circle cx="471.8" cy="31.64" r="1.4" fill="#35e4f7" stroke="none"/>
<circle cx="479.59" cy="35.44" r="1.4" fill="#35e4f7" stroke="none"/>
<circle cx="487.38" cy="35.44" r="1.4" fill="#35e4f7" stroke="none"/>
<circle cx="495.17" cy="37.33" r="1.4" fill="#35e4f7" stroke="none"/>
<circle cx="502.96" cy="39.8" r="1.4" fill="#35e4f7" stroke="none"/>
<path d="M394.2 57.6h12.4" stroke="#111" stroke-width="0.9"/>
<path d="M394.2 64.8h12.4" stroke="#111" stroke-width="0.9" stroke-dasharray="2 1.45"/>
<text x="409.4" y="59.8" font-size="6.6" text-anchor="start" fill="#111">DNApol</text>
<text x="409.4" y="67" font-size="6.6" text-anchor="start" fill="#111">eGFP</text>
<circle cx="398.3" cy="78.5" r="1.35" fill="#35e4f7" stroke="none"/>
<text x="407.5" y="80.6" font-size="6.4" text-anchor="start" fill="#111">AcGFP</text>
<rect x="396.95" y="87.55" width="2.7" height="2.7" fill="#f53bd0" stroke="none"/>
<text x="407.5" y="91" font-size="6.4" text-anchor="start" fill="#111">AcGFP-op166-lef5</text>
<path d="M398.3 97.78l1.55 2.84h-3.1z" fill="#f9706e" stroke="none"/>
<text x="407.5" y="101.5" font-size="6.4" text-anchor="start" fill="#111">AcGFP-p10-lef5</text>
<path d="M401.69 38.85V35.35M400.49 35.35h2.4" stroke="#35e4f7" stroke-width="0.6" fill="none"/>
<path d="M409.48 34.87V32.37M408.28 32.37h2.4" stroke="#35e4f7" stroke-width="0.6" fill="none"/>
<path d="M553.9 29V106.9H671" fill="none" stroke="#222" stroke-width="1.1"/>
<path d="M558 106.9v2.6M565.81 106.9v2.6M573.62 106.9v2.6M581.43 106.9v2.6M589.24 106.9v2.6M597.05 106.9v2.6M604.86 106.9v2.6M612.67 106.9v2.6M620.48 106.9v2.6M628.29 106.9v2.6M636.1 106.9v2.6M643.91 106.9v2.6M651.72 106.9v2.6M659.53 106.9v2.6M667.34 106.9v2.6M553.9 31.2h-3.2M553.9 42.02h-3.2M553.9 52.83h-3.2M553.9 63.64h-3.2M553.9 74.46h-3.2M553.9 85.27h-3.2M553.9 96.09h-3.2M553.9 106.91h-3.2" fill="none" stroke="#222" stroke-width="0.9"/>
<text x="558" y="116.6" font-size="6.5" text-anchor="middle" fill="#111">1</text>
<text x="565.81" y="116.6" font-size="6.5" text-anchor="middle" fill="#111">2</text>
<text x="573.62" y="116.6" font-size="6.5" text-anchor="middle" fill="#111">3</text>
<text x="581.43" y="116.6" font-size="6.5" text-anchor="middle" fill="#111">4</text>
<text x="589.24" y="116.6" font-size="6.5" text-anchor="middle" fill="#111">5</text>
<text x="597.05" y="116.6" font-size="6.5" text-anchor="middle" fill="#111">6</text>
<text x="604.86" y="116.6" font-size="6.5" text-anchor="middle" fill="#111">7</text>
<text x="612.67" y="116.6" font-size="6.5" text-anchor="middle" fill="#111">8</text>
<text x="620.48" y="116.6" font-size="6.5" text-anchor="middle" fill="#111">9</text>
<text x="628.29" y="116.6" font-size="6.5" text-anchor="middle" fill="#111">10</text>
<text x="636.1" y="116.6" font-size="6.5" text-anchor="middle" fill="#111">11</text>
<text x="643.91" y="116.6" font-size="6.5" text-anchor="middle" fill="#111">12</text>
<text x="651.72" y="116.6" font-size="6.5" text-anchor="middle" fill="#111">13</text>
<text x="659.53" y="116.6" font-size="6.5" text-anchor="middle" fill="#111">14</text>
<text x="667.34" y="116.6" font-size="6.5" text-anchor="middle" fill="#111">15</text>
<text x="549.9" y="33.4" font-size="5.6" text-anchor="end" fill="#111">10<tspan font-size="3.6" dy="-2.2">0</tspan></text>
<text x="549.9" y="44.22" font-size="5.6" text-anchor="end" fill="#111">10<tspan font-size="3.6" dy="-2.2">-1</tspan></text>
<text x="549.9" y="55.03" font-size="5.6" text-anchor="end" fill="#111">10<tspan font-size="3.6" dy="-2.2">-2</tspan></text>
<text x="549.9" y="65.84" font-size="5.6" text-anchor="end" fill="#111">10<tspan font-size="3.6" dy="-2.2">-3</tspan></text>
<text x="549.9" y="76.66" font-size="5.6" text-anchor="end" fill="#111">10<tspan font-size="3.6" dy="-2.2">-4</tspan></text>
<text x="549.9" y="87.47" font-size="5.6" text-anchor="end" fill="#111">10<tspan font-size="3.6" dy="-2.2">-5</tspan></text>
<text x="549.9" y="98.29" font-size="5.6" text-anchor="end" fill="#111">10<tspan font-size="3.6" dy="-2.2">-6</tspan></text>
<text x="549.9" y="109.11" font-size="5.6" text-anchor="end" fill="#111">10<tspan font-size="3.6" dy="-2.2">-7</tspan></text>
<text x="612.45" y="128.5" font-size="6.35" text-anchor="middle" fill="#111">Passage number</text>
<text transform="translate(536.9 67.9) rotate(-90)" font-size="6.45" text-anchor="middle" fill="#111">eGFP/DNApol</text>
<text x="612.8" y="19.6" font-size="7.6" text-anchor="middle" fill="#333">2.5%-BEV-eGFP</text>
<polyline points="558,35.67 565.81,37.09 573.62,39.46 581.43,40.65 589.24,36.62 597.05,35.43 604.86,33.05 612.67,34.72 620.48,34.24 628.29,34.95 636.1,39.46 643.91,42.55 651.72,39.7 659.53,46.58 667.34,44.92" fill="none" stroke="#f9706e" stroke-width="0.7"/>
<polyline points="558,34.72 565.81,36.14 573.62,38.28 581.43,39.7 589.24,38.51 597.05,37.09 604.86,38.51 612.67,38.99 620.48,38.99 628.29,40.18 636.1,48.96 643.91,59.64 651.72,56.32 659.53,62.01 667.34,62.72" fill="none" stroke="#35e4f7" stroke-width="0.7"/>
<polyline points="558,35.43 565.81,36.62 573.62,38.28 581.43,40.65 589.24,36.14 597.05,36.14 604.86,35.9 612.67,36.14 620.48,34.24 628.29,34.95 636.1,36.14 643.91,34.95 651.72,36.62 659.53,37.33 667.34,34.95" fill="none" stroke="#f53bd0" stroke-width="0.7"/>
<path d="M558 34.23l1.38 2.52h-2.76z" fill="#f9706e" stroke="none"/>
<path d="M565.81 35.65l1.38 2.52h-2.76z" fill="#f9706e" stroke="none"/>
<path d="M573.62 38.02l1.38 2.52h-2.76z" fill="#f9706e" stroke="none"/>
<path d="M581.43 39.21l1.38 2.52h-2.76z" fill="#f9706e" stroke="none"/>
<path d="M589.24 35.18l1.38 2.52h-2.76z" fill="#f9706e" stroke="none"/>
<path d="M597.05 33.99l1.38 2.52h-2.76z" fill="#f9706e" stroke="none"/>
<path d="M604.86 31.61l1.38 2.52h-2.76z" fill="#f9706e" stroke="none"/>
<path d="M612.67 33.28l1.38 2.52h-2.76z" fill="#f9706e" stroke="none"/>
<path d="M620.48 32.8l1.38 2.52h-2.76z" fill="#f9706e" stroke="none"/>
<path d="M628.29 33.51l1.38 2.52h-2.76z" fill="#f9706e" stroke="none"/>
<path d="M636.1 38.02l1.38 2.52h-2.76z" fill="#f9706e" stroke="none"/>
<path d="M643.91 41.11l1.38 2.52h-2.76z" fill="#f9706e" stroke="none"/>
<path d="M651.72 38.26l1.38 2.52h-2.76z" fill="#f9706e" stroke="none"/>
<path d="M659.53 45.14l1.38 2.52h-2.76z" fill="#f9706e" stroke="none"/>
<path d="M667.34 43.48l1.38 2.52h-2.76z" fill="#f9706e" stroke="none"/>
<circle cx="558" cy="34.72" r="1.45" fill="#35e4f7" stroke="none"/>
<circle cx="565.81" cy="36.14" r="1.45" fill="#35e4f7" stroke="none"/>
<circle cx="573.62" cy="38.28" r="1.45" fill="#35e4f7" stroke="none"/>
<circle cx="581.43" cy="39.7" r="1.45" fill="#35e4f7" stroke="none"/>
<circle cx="589.24" cy="38.51" r="1.45" fill="#35e4f7" stroke="none"/>
<circle cx="597.05" cy="37.09" r="1.45" fill="#35e4f7" stroke="none"/>
<circle cx="604.86" cy="38.51" r="1.45" fill="#35e4f7" stroke="none"/>
<circle cx="612.67" cy="38.99" r="1.45" fill="#35e4f7" stroke="none"/>
<circle cx="620.48" cy="38.99" r="1.45" fill="#35e4f7" stroke="none"/>
<circle cx="628.29" cy="40.18" r="1.45" fill="#35e4f7" stroke="none"/>
<circle cx="636.1" cy="48.96" r="1.45" fill="#35e4f7" stroke="none"/>
<circle cx="643.91" cy="59.64" r="1.45" fill="#35e4f7" stroke="none"/>
<circle cx="651.72" cy="56.32" r="1.45" fill="#35e4f7" stroke="none"/>
<circle cx="659.53" cy="62.01" r="1.45" fill="#35e4f7" stroke="none"/>
<circle cx="667.34" cy="62.72" r="1.45" fill="#35e4f7" stroke="none"/>
<rect x="556.65" y="34.08" width="2.7" height="2.7" fill="#f53bd0" stroke="none"/>
<rect x="564.46" y="35.27" width="2.7" height="2.7" fill="#f53bd0" stroke="none"/>
<rect x="572.27" y="36.93" width="2.7" height="2.7" fill="#f53bd0" stroke="none"/>
<rect x="580.08" y="39.3" width="2.7" height="2.7" fill="#f53bd0" stroke="none"/>
<rect x="587.89" y="34.79" width="2.7" height="2.7" fill="#f53bd0" stroke="none"/>
<rect x="595.7" y="34.79" width="2.7" height="2.7" fill="#f53bd0" stroke="none"/>
<rect x="603.51" y="34.55" width="2.7" height="2.7" fill="#f53bd0" stroke="none"/>
<rect x="611.32" y="34.79" width="2.7" height="2.7" fill="#f53bd0" stroke="none"/>
<rect x="619.13" y="32.89" width="2.7" height="2.7" fill="#f53bd0" stroke="none"/>
<rect x="626.94" y="33.6" width="2.7" height="2.7" fill="#f53bd0" stroke="none"/>
<rect x="634.75" y="34.79" width="2.7" height="2.7" fill="#f53bd0" stroke="none"/>
<rect x="642.56" y="33.6" width="2.7" height="2.7" fill="#f53bd0" stroke="none"/>
<rect x="650.37" y="35.27" width="2.7" height="2.7" fill="#f53bd0" stroke="none"/>
<rect x="658.18" y="35.98" width="2.7" height="2.7" fill="#f53bd0" stroke="none"/>
<rect x="665.99" y="33.6" width="2.7" height="2.7" fill="#f53bd0" stroke="none"/>
<path d="M558.7 79.8h9" stroke="#35e4f7" stroke-width="0.7"/>
<circle cx="563.2" cy="79.8" r="1.35" fill="#35e4f7" stroke="none"/>
<text x="571.7" y="81.9" font-size="6.4" text-anchor="start" fill="#111">AcGFP</text>
<path d="M558.7 90.5h9" stroke="#f53bd0" stroke-width="0.7"/>
<rect x="561.85" y="89.15" width="2.7" height="2.7" fill="#f53bd0" stroke="none"/>
<text x="571.7" y="92.6" font-size="6.4" text-anchor="start" fill="#111">AcGFP-op166-lef5</text>
<path d="M558.7 100.7h9" stroke="#f9706e" stroke-width="0.7"/>
<path d="M563.2 99.08l1.55 2.84h-3.1z" fill="#f9706e" stroke="none"/>
<text x="571.7" y="102.8" font-size="6.4" text-anchor="start" fill="#111">AcGFP-p10-lef5</text>
<path d="M565.81 36.14V33.64M564.61 33.64h2.4" stroke="#35e4f7" stroke-width="0.6" fill="none"/>
<path d="M589.24 36.14V33.14M588.04 33.14h2.4" stroke="#f53bd0" stroke-width="0.6" fill="none"/>
<path d="M604.86 33.05V30.55M603.66 30.55h2.4" stroke="#f9706e" stroke-width="0.6" fill="none"/>
<defs>
<filter id="c11" x="0" y="0" width="100%" height="100%" color-interpolation-filters="sRGB"><feTurbulence type="fractalNoise" baseFrequency="0.52" numOctaves="3" seed="6"/><feColorMatrix type="matrix" values="1 0 0 0 0  1 0 0 0 0  1 0 0 0 0  0 0 0 0 1" result="h"/><feTurbulence type="fractalNoise" baseFrequency="0.09" numOctaves="2" seed="106"/><feColorMatrix type="matrix" values="1 0 0 0 0  1 0 0 0 0  1 0 0 0 0  0 0 0 0 1" result="l"/><feComposite in="h" in2="l" operator="arithmetic" k1="0" k2="1" k3="0.3" k4="-0.15" result="n"/><feComponentTransfer><feFuncR type="table" tableValues="0 0 0 0 0 0 0 0 0 0.002 0.004 0.008 0.012 0.016 0.02 0.024 0.028 0.042 0.067 0.099 0.136 0.175 0.212 0.244 0.268 0.279 0.28 0.28 0.28 0.28 0.28 0.28 0.28"/><feFuncG type="table" tableValues="0.17 0.17 0.17 0.17 0.17 0.17 0.17 0.17 0.173 0.187 0.21 0.24 0.275 0.312 0.349 0.382 0.416 0.468 0.529 0.595 0.668 0.742 0.811 0.868 0.907 0.92 0.92 0.92 0.92 0.92 0.92 0.92 0.92"/><feFuncB type="table" tableValues="0 0 0 0 0 0 0 0 0 0 0 0 0 0 0 0 0 0 0 0 0 0.004 0.01 0.019 0.028 0.037 0.044 0.049 0.05 0.05 0.05 0.05 0.05"/></feComponentTransfer></filter>
<filter id="c12" x="0" y="0" width="100%" height="100%" color-interpolation-filters="sRGB"><feTurbulence type="fractalNoise" baseFrequency="0.46" numOctaves="3" seed="11"/><feColorMatrix type="matrix" values="1 0 0 0 0  1 0 0 0 0  1 0 0 0 0  0 0 0 0 1" result="h"/><feTurbulence type="fractalNoise" baseFrequency="0.09" numOctaves="2" seed="111"/><feColorMatrix type="matrix" values="1 0 0 0 0  1 0 0 0 0  1 0 0 0 0  0 0 0 0 1" result="l"/><feComposite in="h" in2="l" operator="arithmetic" k1="0" k2="1" k3="0.3" k4="-0.15" result="n"/><feComponentTransfer><feFuncR type="table" tableValues="0.008 0.008 0.008 0.008 0.008 0.008 0.008 0.008 0.008 0.008 0.008 0.008 0.008 0.008 0.008 0.008 0.008 0.008 0.012 0.021 0.035 0.051 0.068 0.085 0.1 0.112 0.119 0.12 0.12 0.12 0.12 0.12 0.12"/><feFuncG type="table" tableValues="0.12 0.12 0.12 0.12 0.12 0.12 0.12 0.12 0.12 0.12 0.12 0.12 0.12 0.12 0.12 0.128 0.152 0.189 0.236 0.291 0.351 0.412 0.471 0.526 0.573 0.61 0.633 0.64 0.64 0.64 0.64 0.64 0.64"/><feFuncB type="table" tableValues="0.015 0.015 0.015 0.015 0.015 0.015 0.015 0.015 0.015 0.015 0.015 0.015 0.015 0.015 0.015 0.015 0.015 0.015 0.015 0.015 0.018 0.028 0.041 0.057 0.073 0.086 0.096 0.1 0.1 0.1 0.1 0.1 0.1"/></feComponentTransfer></filter>
<filter id="c13" x="0" y="0" width="100%" height="100%" color-interpolation-filters="sRGB"><feTurbulence type="fractalNoise" baseFrequency="0.5" numOctaves="3" seed="16"/><feColorMatrix type="matrix" values="1 0 0 0 0  1 0 0 0 0  1 0 0 0 0  0 0 0 0 1" result="h"/><feTurbulence type="fractalNoise" baseFrequency="0.09" numOctaves="2" seed="116"/><feColorMatrix type="matrix" values="1 0 0 0 0  1 0 0 0 0  1 0 0 0 0  0 0 0 0 1" result="l"/><feComposite in="h" in2="l" operator="arithmetic" k1="0" k2="1" k3="0.2" k4="-0.1" result="n"/><feComponentTransfer><feFuncR type="table" tableValues="0.01 0.01 0.01 0.01 0.01 0.01 0.01 0.01 0.01 0.01 0.01 0.01 0.01 0.01 0.01 0.01 0.01 0.01 0.01 0.01 0.01 0.013 0.029 0.054 0.079 0.097 0.1 0.1 0.1 0.1 0.1 0.1 0.1"/><feFuncG type="table" tableValues="0.105 0.105 0.105 0.105 0.105 0.105 0.105 0.105 0.105 0.105 0.105 0.105 0.105 0.105 0.105 0.105 0.105 0.105 0.105 0.105 0.105 0.116 0.189 0.298 0.408 0.485 0.5 0.5 0.5 0.5 0.5 0.5 0.5"/><feFuncB type="table" tableValues="0.015 0.015 0.015 0.015 0.015 0.015 0.015 0.015 0.015 0.015 0.015 0.015 0.015 0.015 0.015 0.015 0.015 0.015 0.015 0.015 0.018 0.028 0.041 0.057 0.073 0.086 0.096 0.1 0.1 0.1 0.1 0.1 0.1"/></feComponentTransfer></filter>
<filter id="c14" x="0" y="0" width="100%" height="100%" color-interpolation-filters="sRGB"><feTurbulence type="fractalNoise" baseFrequency="0.33" numOctaves="3" seed="21"/><feColorMatrix type="matrix" values="1 0 0 0 0  1 0 0 0 0  1 0 0 0 0  0 0 0 0 1" result="h"/><feTurbulence type="fractalNoise" baseFrequency="0.09" numOctaves="2" seed="121"/><feColorMatrix type="matrix" values="1 0 0 0 0  1 0 0 0 0  1 0 0 0 0  0 0 0 0 1" result="l"/><feComposite in="h" in2="l" operator="arithmetic" k1="0" k2="1" k3="0.5" k4="-0.25" result="n"/><feComposite in="n" in2="SourceGraphic" operator="arithmetic" k1="0" k2="1" k3="1" k4="-0.5"/><feComponentTransfer><feFuncR type="table" tableValues="0 0 0 0 0 0 0 0 0 0.001 0.001 0.002 0.002 0.003 0.004 0.005 0.006 0.007 0.008 0.009 0.01 0.01 0.011 0.011 0.012 0.012 0.012 0.012 0.012 0.012 0.012 0.012 0.012"/><feFuncG type="table" tableValues="0.01 0.01 0.01 0.01 0.01 0.01 0.01 0.01 0.01 0.011 0.012 0.014 0.015 0.017 0.019 0.021 0.022 0.024 0.026 0.028 0.03 0.031 0.033 0.034 0.035 0.035 0.035 0.035 0.035 0.035 0.035 0.035 0.035"/><feFuncB type="table" tableValues="0 0 0 0 0 0 0 0 0 0.001 0.001 0.002 0.002 0.003 0.004 0.005 0.006 0.007 0.008 0.009 0.01 0.01 0.011 0.011 0.012 0.012 0.012 0.012 0.012 0.012 0.012 0.012 0.012"/></feComponentTransfer></filter>
<filter id="c21" x="0" y="0" width="100%" height="100%" color-interpolation-filters="sRGB"><feTurbulence type="fractalNoise" baseFrequency="0.52" numOctaves="3" seed="26"/><feColorMatrix type="matrix" values="1 0 0 0 0  1 0 0 0 0  1 0 0 0 0  0 0 0 0 1" result="h"/><feTurbulence type="fractalNoise" baseFrequency="0.09" numOctaves="2" seed="126"/><feColorMatrix type="matrix" values="1 0 0 0 0  1 0 0 0 0  1 0 0 0 0  0 0 0 0 1" result="l"/><feComposite in="h" in2="l" operator="arithmetic" k1="0" k2="1" k3="0.3" k4="-0.15" result="n"/><feComponentTransfer><feFuncR type="table" tableValues="0 0 0 0 0 0 0 0 0 0.002 0.004 0.008 0.012 0.016 0.02 0.024 0.028 0.042 0.067 0.099 0.136 0.175 0.212 0.244 0.268 0.279 0.28 0.28 0.28 0.28 0.28 0.28 0.28"/><feFuncG type="table" tableValues="0.17 0.17 0.17 0.17 0.17 0.17 0.17 0.17 0.173 0.187 0.21 0.24 0.275 0.312 0.349 0.382 0.416 0.468 0.529 0.595 0.668 0.742 0.811 0.868 0.907 0.92 0.92 0.92 0.92 0.92 0.92 0.92 0.92"/><feFuncB type="table" tableValues="0 0 0 0 0 0 0 0 0 0 0 0 0 0 0 0 0 0 0 0 0 0.004 0.01 0.019 0.028 0.037 0.044 0.049 0.05 0.05 0.05 0.05 0.05"/></feComponentTransfer></filter>
<filter id="c22" x="0" y="0" width="100%" height="100%" color-interpolation-filters="sRGB"><feTurbulence type="fractalNoise" baseFrequency="0.46" numOctaves="3" seed="31"/><feColorMatrix type="matrix" values="1 0 0 0 0  1 0 0 0 0  1 0 0 0 0  0 0 0 0 1" result="h"/><feTurbulence type="fractalNoise" baseFrequency="0.09" numOctaves="2" seed="131"/><feColorMatrix type="matrix" values="1 0 0 0 0  1 0 0 0 0  1 0 0 0 0  0 0 0 0 1" result="l"/><feComposite in="h" in2="l" operator="arithmetic" k1="0" k2="1" k3="0.45" k4="-0.23" result="n"/><feComponentTransfer><feFuncR type="table" tableValues="0 0 0 0 0 0 0 0 0 0.002 0.006 0.01 0.016 0.021 0.027 0.031 0.039 0.062 0.096 0.137 0.183 0.229 0.272 0.308 0.332 0.34 0.34 0.34 0.34 0.34 0.34 0.34 0.34"/><feFuncG type="table" tableValues="0.18 0.18 0.18 0.18 0.18 0.18 0.18 0.18 0.183 0.198 0.223 0.256 0.293 0.333 0.372 0.408 0.451 0.51 0.576 0.644 0.717 0.789 0.853 0.904 0.934 0.94 0.94 0.94 0.94 0.94 0.94 0.94 0.94"/><feFuncB type="table" tableValues="0 0 0 0 0 0 0 0 0 0 0 0 0 0 0 0 0 0 0 0 0 0.004 0.01 0.019 0.028 0.037 0.044 0.049 0.05 0.05 0.05 0.05 0.05"/></feComponentTransfer></filter>
<filter id="c23" x="0" y="0" width="100%" height="100%" color-interpolation-filters="sRGB"><feTurbulence type="fractalNoise" baseFrequency="0.6" numOctaves="3" seed="36"/><feColorMatrix type="matrix" values="1 0 0 0 0  1 0 0 0 0  1 0 0 0 0  0 0 0 0 1" result="h"/><feTurbulence type="fractalNoise" baseFrequency="0.09" numOctaves="2" seed="136"/><feColorMatrix type="matrix" values="1 0 0 0 0  1 0 0 0 0  1 0 0 0 0  0 0 0 0 1" result="l"/><feComposite in="h" in2="l" operator="arithmetic" k1="0" k2="1" k3="0.3" k4="-0.15" result="n"/><feComposite in="n" in2="SourceGraphic" operator="arithmetic" k1="0" k2="1" k3="0.35" k4="-0.17"/><feComponentTransfer><feFuncR type="table" tableValues="0.01 0.01 0.01 0.01 0.01 0.01 0.01 0.01 0.01 0.01 0.01 0.01 0.01 0.01 0.01 0.01 0.01 0.01 0.01 0.01 0.01 0.013 0.031 0.061 0.096 0.129 0.152 0.16 0.16 0.16 0.16 0.16 0.16"/><feFuncG type="table" tableValues="0.12 0.12 0.12 0.12 0.12 0.12 0.12 0.12 0.12 0.12 0.12 0.12 0.12 0.12 0.12 0.12 0.12 0.12 0.12 0.12 0.128 0.188 0.291 0.415 0.54 0.645 0.709 0.72 0.72 0.72 0.72 0.72 0.72"/><feFuncB type="table" tableValues="0 0 0 0 0 0 0 0 0 0 0 0 0 0 0 0 0 0 0 0 0 0.004 0.01 0.019 0.028 0.037 0.044 0.049 0.05 0.05 0.05 0.05 0.05"/></feComponentTransfer></filter>
<filter id="c24" x="0" y="0" width="100%" height="100%" color-interpolation-filters="sRGB"><feTurbulence type="fractalNoise" baseFrequency="0.33" numOctaves="3" seed="41"/><feColorMatrix type="matrix" values="1 0 0 0 0  1 0 0 0 0  1 0 0 0 0  0 0 0 0 1" result="h"/><feTurbulence type="fractalNoise" baseFrequency="0.09" numOctaves="2" seed="141"/><feColorMatrix type="matrix" values="1 0 0 0 0  1 0 0 0 0  1 0 0 0 0  0 0 0 0 1" result="l"/><feComposite in="h" in2="l" operator="arithmetic" k1="0" k2="1" k3="1" k4="-0.5" result="n"/><feComponentTransfer><feFuncR type="table" tableValues="0.005 0.005 0.005 0.005 0.005 0.005 0.005 0.005 0.005 0.005 0.005 0.005 0.006 0.006 0.007 0.007 0.007 0.008 0.008 0.009 0.009 0.01 0.01 0.01 0.01 0.01 0.01 0.01 0.01 0.01 0.01 0.01 0.01"/><feFuncG type="table" tableValues="0.04 0.04 0.04 0.04 0.04 0.04 0.04 0.04 0.04 0.04 0.04 0.041 0.042 0.042 0.043 0.044 0.045 0.046 0.047 0.048 0.048 0.049 0.05 0.05 0.05 0.05 0.05 0.05 0.05 0.05 0.05 0.05 0.05"/><feFuncB type="table" tableValues="0 0 0 0 0 0 0 0 0 0 0 0.001 0.002 0.002 0.003 0.004 0.005 0.006 0.007 0.008 0.008 0.009 0.01 0.01 0.01 0.01 0.01 0.01 0.01 0.01 0.01 0.01 0.01"/></feComponentTransfer></filter>
<filter id="c31" x="0" y="0" width="100%" height="100%" color-interpolation-filters="sRGB"><feTurbulence type="fractalNoise" baseFrequency="0.47" numOctaves="3" seed="46"/><feColorMatrix type="matrix" values="1 0 0 0 0  1 0 0 0 0  1 0 0 0 0  0 0 0 0 1" result="h"/><feTurbulence type="fractalNoise" baseFrequency="0.09" numOctaves="2" seed="146"/><feColorMatrix type="matrix" values="1 0 0 0 0  1 0 0 0 0  1 0 0 0 0  0 0 0 0 1" result="l"/><feComposite in="h" in2="l" operator="arithmetic" k1="0" k2="1" k3="0.3" k4="-0.15" result="n"/><feComponentTransfer><feFuncR type="table" tableValues="0 0 0 0 0 0 0 0 0 0.002 0.006 0.01 0.016 0.021 0.027 0.031 0.037 0.054 0.084 0.123 0.168 0.214 0.259 0.297 0.325 0.339 0.34 0.34 0.34 0.34 0.34 0.34 0.34"/><feFuncG type="table" tableValues="0.22 0.22 0.22 0.22 0.22 0.22 0.22 0.22 0.223 0.237 0.261 0.293 0.329 0.368 0.406 0.44 0.475 0.524 0.581 0.642 0.709 0.777 0.84 0.892 0.928 0.94 0.94 0.94 0.94 0.94 0.94 0.94 0.94"/><feFuncB type="table" tableValues="0 0 0 0 0 0 0 0 0 0 0 0 0 0 0 0 0 0 0 0 0 0.004 0.01 0.019 0.028 0.037 0.044 0.049 0.05 0.05 0.05 0.05 0.05"/></feComponentTransfer></filter>
<filter id="c32" x="0" y="0" width="100%" height="100%" color-interpolation-filters="sRGB"><feTurbulence type="fractalNoise" baseFrequency="0.44" numOctaves="3" seed="51"/><feColorMatrix type="matrix" values="1 0 0 0 0  1 0 0 0 0  1 0 0 0 0  0 0 0 0 1" result="h"/><feTurbulence type="fractalNoise" baseFrequency="0.09" numOctaves="2" seed="151"/><feColorMatrix type="matrix" values="1 0 0 0 0  1 0 0 0 0  1 0 0 0 0  0 0 0 0 1" result="l"/><feComposite in="h" in2="l" operator="arithmetic" k1="0" k2="1" k3="0.3" k4="-0.15" result="n"/><feComponentTransfer><feFuncR type="table" tableValues="0 0 0 0 0 0 0 0 0 0.002 0.006 0.01 0.016 0.021 0.027 0.031 0.04 0.063 0.099 0.143 0.192 0.242 0.287 0.325 0.351 0.36 0.36 0.36 0.36 0.36 0.36 0.36 0.36"/><feFuncG type="table" tableValues="0.2 0.2 0.2 0.2 0.2 0.2 0.2 0.2 0.203 0.218 0.244 0.278 0.317 0.358 0.399 0.436 0.48 0.538 0.602 0.667 0.736 0.805 0.867 0.915 0.944 0.95 0.95 0.95 0.95 0.95 0.95 0.95 0.95"/><feFuncB type="table" tableValues="0 0 0 0 0 0 0 0 0 0 0 0 0 0 0 0 0 0 0 0 0 0.004 0.01 0.019 0.028 0.037 0.044 0.049 0.05 0.05 0.05 0.05 0.05"/></feComponentTransfer></filter>
<filter id="c33" x="0" y="0" width="100%" height="100%" color-interpolation-filters="sRGB"><feTurbulence type="fractalNoise" baseFrequency="0.56" numOctaves="3" seed="56"/><feColorMatrix type="matrix" values="1 0 0 0 0  1 0 0 0 0  1 0 0 0 0  0 0 0 0 1" result="h"/><feTurbulence type="fractalNoise" baseFrequency="0.09" numOctaves="2" seed="156"/><feColorMatrix type="matrix" values="1 0 0 0 0  1 0 0 0 0  1 0 0 0 0  0 0 0 0 1" result="l"/><feComposite in="h" in2="l" operator="arithmetic" k1="0" k2="1" k3="0.3" k4="-0.15" result="n"/><feComponentTransfer><feFuncR type="table" tableValues="0 0 0 0 0 0 0 0 0 0.002 0.004 0.008 0.012 0.016 0.02 0.024 0.028 0.043 0.07 0.105 0.145 0.187 0.227 0.262 0.287 0.299 0.3 0.3 0.3 0.3 0.3 0.3 0.3"/><feFuncG type="table" tableValues="0.16 0.16 0.16 0.16 0.16 0.16 0.16 0.16 0.163 0.176 0.198 0.228 0.262 0.297 0.332 0.365 0.406 0.468 0.54 0.616 0.698 0.779 0.852 0.909 0.943 0.95 0.95 0.95 0.95 0.95 0.95 0.95 0.95"/><feFuncB type="table" tableValues="0 0 0 0 0 0 0 0 0 0 0 0 0 0 0 0 0 0 0 0 0 0.004 0.01 0.019 0.028 0.037 0.044 0.049 0.05 0.05 0.05 0.05 0.05"/></feComponentTransfer></filter>
<filter id="c34" x="0" y="0" width="100%" height="100%" color-interpolation-filters="sRGB"><feTurbulence type="fractalNoise" baseFrequency="0.52" numOctaves="3" seed="61"/><feColorMatrix type="matrix" values="1 0 0 0 0  1 0 0 0 0  1 0 0 0 0  0 0 0 0 1" result="h"/><feTurbulence type="fractalNoise" baseFrequency="0.09" numOctaves="2" seed="161"/><feColorMatrix type="matrix" values="1 0 0 0 0  1 0 0 0 0  1 0 0 0 0  0 0 0 0 1" result="l"/><feComposite in="h" in2="l" operator="arithmetic" k1="0" k2="1" k3="0.2" k4="-0.1" result="n"/><feComponentTransfer><feFuncR type="table" tableValues="0.008 0.008 0.008 0.008 0.008 0.008 0.008 0.008 0.008 0.008 0.008 0.008 0.008 0.008 0.008 0.008 0.008 0.008 0.008 0.008 0.008 0.008 0.015 0.036 0.063 0.086 0.099 0.1 0.1 0.1 0.1 0.1 0.1"/><feFuncG type="table" tableValues="0.085 0.085 0.085 0.085 0.085 0.085 0.085 0.085 0.085 0.085 0.085 0.085 0.085 0.085 0.085 0.085 0.085 0.085 0.085 0.085 0.085 0.085 0.116 0.206 0.319 0.422 0.477 0.48 0.48 0.48 0.48 0.48 0.48"/><feFuncB type="table" tableValues="0.015 0.015 0.015 0.015 0.015 0.015 0.015 0.015 0.015 0.015 0.015 0.015 0.015 0.015 0.015 0.015 0.015 0.015 0.015 0.015 0.018 0.028 0.041 0.057 0.073 0.086 0.096 0.1 0.1 0.1 0.1 0.1 0.1"/></feComponentTransfer></filter>
<filter id="f11" x="0" y="0" width="100%" height="100%" color-interpolation-filters="sRGB"><feTurbulence type="fractalNoise" baseFrequency="0.44" numOctaves="3" seed="66"/><feColorMatrix type="matrix" values="1 0 0 0 0  1 0 0 0 0  1 0 0 0 0  0 0 0 0 1" result="h"/><feTurbulence type="fractalNoise" baseFrequency="0.09" numOctaves="2" seed="166"/><feColorMatrix type="matrix" values="1 0 0 0 0  1 0 0 0 0  1 0 0 0 0  0 0 0 0 1" result="l"/><feComposite in="h" in2="l" operator="arithmetic" k1="0" k2="1" k3="0.3" k4="-0.15" result="n"/><feComponentTransfer><feFuncR type="table" tableValues="0.04 0.04 0.04 0.04 0.04 0.04 0.04 0.04 0.041 0.046 0.053 0.063 0.075 0.087 0.1 0.111 0.121 0.142 0.172 0.21 0.253 0.298 0.342 0.379 0.406 0.419 0.42 0.42 0.42 0.42 0.42 0.42 0.42"/><feFuncG type="table" tableValues="0.33 0.33 0.33 0.33 0.33 0.33 0.33 0.33 0.333 0.348 0.373 0.406 0.443 0.483 0.522 0.558 0.589 0.628 0.671 0.717 0.769 0.823 0.875 0.92 0.953 0.969 0.97 0.97 0.97 0.97 0.97 0.97 0.97"/><feFuncB type="table" tableValues="0.01 0.01 0.01 0.01 0.01 0.01 0.01 0.01 0.01 0.012 0.014 0.018 0.022 0.026 0.03 0.034 0.037 0.044 0.055 0.068 0.083 0.098 0.113 0.126 0.135 0.14 0.14 0.14 0.14 0.14 0.14 0.14 0.14"/></feComponentTransfer></filter>
<filter id="f12" x="0" y="0" width="100%" height="100%" color-interpolation-filters="sRGB"><feTurbulence type="fractalNoise" baseFrequency="0.5" numOctaves="3" seed="71"/><feColorMatrix type="matrix" values="1 0 0 0 0  1 0 0 0 0  1 0 0 0 0  0 0 0 0 1" result="h"/><feTurbulence type="fractalNoise" baseFrequency="0.09" numOctaves="2" seed="171"/><feColorMatrix type="matrix" values="1 0 0 0 0  1 0 0 0 0  1 0 0 0 0  0 0 0 0 1" result="l"/><feComposite in="h" in2="l" operator="arithmetic" k1="0" k2="1" k3="0.3" k4="-0.15" result="n"/><feComponentTransfer><feFuncR type="table" tableValues="0.04 0.04 0.04 0.04 0.04 0.04 0.04 0.04 0.041 0.044 0.05 0.058 0.067 0.077 0.086 0.095 0.102 0.115 0.138 0.168 0.204 0.243 0.281 0.315 0.341 0.357 0.36 0.36 0.36 0.36 0.36 0.36 0.36"/><feFuncG type="table" tableValues="0.33 0.33 0.33 0.33 0.33 0.33 0.33 0.33 0.332 0.345 0.367 0.395 0.428 0.462 0.496 0.527 0.553 0.582 0.619 0.661 0.712 0.766 0.819 0.867 0.904 0.926 0.93 0.93 0.93 0.93 0.93 0.93 0.93"/><feFuncB type="table" tableValues="0.01 0.01 0.01 0.01 0.01 0.01 0.01 0.01 0.01 0.012 0.014 0.018 0.022 0.026 0.03 0.034 0.037 0.044 0.055 0.068 0.083 0.098 0.113 0.126 0.135 0.14 0.14 0.14 0.14 0.14 0.14 0.14 0.14"/></feComponentTransfer></filter>
<filter id="f13" x="0" y="0" width="100%" height="100%" color-interpolation-filters="sRGB"><feTurbulence type="fractalNoise" baseFrequency="0.55" numOctaves="3" seed="76"/><feColorMatrix type="matrix" values="1 0 0 0 0  1 0 0 0 0  1 0 0 0 0  0 0 0 0 1" result="h"/><feTurbulence type="fractalNoise" baseFrequency="0.09" numOctaves="2" seed="176"/><feColorMatrix type="matrix" values="1 0 0 0 0  1 0 0 0 0  1 0 0 0 0  0 0 0 0 1" result="l"/><feComposite in="h" in2="l" operator="arithmetic" k1="0" k2="1" k3="0.3" k4="-0.15" result="n"/><feComponentTransfer><feFuncR type="table" tableValues="0.03 0.03 0.03 0.03 0.03 0.03 0.03 0.03 0.03 0.03 0.031 0.034 0.037 0.041 0.045 0.048 0.052 0.054 0.058 0.071 0.091 0.117 0.144 0.171 0.194 0.211 0.22 0.22 0.22 0.22 0.22 0.22 0.22"/><feFuncG type="table" tableValues="0.22 0.22 0.22 0.22 0.22 0.22 0.22 0.22 0.22 0.221 0.228 0.243 0.262 0.285 0.308 0.33 0.349 0.363 0.378 0.413 0.469 0.538 0.613 0.686 0.75 0.797 0.819 0.82 0.82 0.82 0.82 0.82 0.82"/><feFuncB type="table" tableValues="0.015 0.015 0.015 0.015 0.015 0.015 0.015 0.015 0.015 0.015 0.015 0.015 0.015 0.015 0.015 0.015 0.015 0.015 0.015 0.015 0.018 0.028 0.041 0.057 0.073 0.086 0.096 0.1 0.1 0.1 0.1 0.1 0.1"/></feComponentTransfer></filter>
<filter id="f14" x="0" y="0" width="100%" height="100%" color-interpolation-filters="sRGB"><feTurbulence type="fractalNoise" baseFrequency="0.33" numOctaves="3" seed="81"/><feColorMatrix type="matrix" values="1 0 0 0 0  1 0 0 0 0  1 0 0 0 0  0 0 0 0 1" result="h"/><feTurbulence type="fractalNoise" baseFrequency="0.09" numOctaves="2" seed="181"/><feColorMatrix type="matrix" values="1 0 0 0 0  1 0 0 0 0  1 0 0 0 0  0 0 0 0 1" result="l"/><feComposite in="h" in2="l" operator="arithmetic" k1="0" k2="1" k3="1" k4="-0.5" result="n"/><feComponentTransfer><feFuncR type="table" tableValues="0.005 0.005 0.005 0.005 0.005 0.005 0.005 0.005 0.005 0.005 0.005 0.006 0.006 0.007 0.007 0.008 0.009 0.009 0.01 0.01 0.011 0.011 0.012 0.012 0.012 0.012 0.012 0.012 0.012 0.012 0.012 0.012 0.012"/><feFuncG type="table" tableValues="0.04 0.04 0.04 0.04 0.04 0.04 0.04 0.04 0.04 0.04 0.041 0.041 0.042 0.043 0.045 0.046 0.048 0.049 0.05 0.052 0.053 0.054 0.054 0.055 0.055 0.055 0.055 0.055 0.055 0.055 0.055 0.055 0.055"/><feFuncB type="table" tableValues="0 0 0 0 0 0 0 0 0 0 0 0.001 0.001 0.001 0.002 0.002 0.003 0.004 0.004 0.005 0.005 0.005 0.006 0.006 0.006 0.006 0.006 0.006 0.006 0.006 0.006 0.006 0.006"/></feComponentTransfer></filter>
<filter id="f21" x="0" y="0" width="100%" height="100%" color-interpolation-filters="sRGB"><feTurbulence type="fractalNoise" baseFrequency="0.42" numOctaves="3" seed="86"/><feColorMatrix type="matrix" values="1 0 0 0 0  1 0 0 0 0  1 0 0 0 0  0 0 0 0 1" result="h"/><feTurbulence type="fractalNoise" baseFrequency="0.09" numOctaves="2" seed="186"/><feColorMatrix type="matrix" values="1 0 0 0 0  1 0 0 0 0  1 0 0 0 0  0 0 0 0 1" result="l"/><feComposite in="h" in2="l" operator="arithmetic" k1="0" k2="1" k3="0.35" k4="-0.17" result="n"/><feComponentTransfer><feFuncR type="table" tableValues="0.04 0.04 0.04 0.04 0.04 0.04 0.04 0.04 0.041 0.046 0.053 0.063 0.075 0.087 0.1 0.111 0.121 0.142 0.172 0.21 0.253 0.298 0.342 0.379 0.406 0.419 0.42 0.42 0.42 0.42 0.42 0.42 0.42"/><feFuncG type="table" tableValues="0.33 0.33 0.33 0.33 0.33 0.33 0.33 0.33 0.333 0.348 0.373 0.406 0.443 0.483 0.522 0.558 0.589 0.628 0.671 0.717 0.769 0.823 0.875 0.92 0.953 0.969 0.97 0.97 0.97 0.97 0.97 0.97 0.97"/><feFuncB type="table" tableValues="0.01 0.01 0.01 0.01 0.01 0.01 0.01 0.01 0.01 0.012 0.014 0.018 0.022 0.026 0.03 0.034 0.037 0.044 0.055 0.068 0.083 0.098 0.113 0.126 0.135 0.14 0.14 0.14 0.14 0.14 0.14 0.14 0.14"/></feComponentTransfer></filter>
<filter id="f22" x="0" y="0" width="100%" height="100%" color-interpolation-filters="sRGB"><feTurbulence type="fractalNoise" baseFrequency="0.46" numOctaves="3" seed="91"/><feColorMatrix type="matrix" values="1 0 0 0 0  1 0 0 0 0  1 0 0 0 0  0 0 0 0 1" result="h"/><feTurbulence type="fractalNoise" baseFrequency="0.09" numOctaves="2" seed="191"/><feColorMatrix type="matrix" values="1 0 0 0 0  1 0 0 0 0  1 0 0 0 0  0 0 0 0 1" result="l"/><feComposite in="h" in2="l" operator="arithmetic" k1="0" k2="1" k3="0.3" k4="-0.15" result="n"/><feComponentTransfer><feFuncR type="table" tableValues="0.02 0.02 0.02 0.02 0.02 0.02 0.02 0.02 0.02 0.023 0.027 0.033 0.04 0.046 0.053 0.059 0.065 0.072 0.09 0.118 0.152 0.19 0.229 0.265 0.294 0.314 0.32 0.32 0.32 0.32 0.32 0.32 0.32"/><feFuncG type="table" tableValues="0.28 0.28 0.28 0.28 0.28 0.28 0.28 0.28 0.282 0.293 0.313 0.337 0.366 0.396 0.426 0.453 0.476 0.498 0.532 0.576 0.631 0.693 0.754 0.811 0.858 0.89 0.9 0.9 0.9 0.9 0.9 0.9 0.9"/><feFuncB type="table" tableValues="0.01 0.01 0.01 0.01 0.01 0.01 0.01 0.01 0.01 0.012 0.014 0.018 0.022 0.026 0.03 0.034 0.037 0.044 0.055 0.068 0.083 0.098 0.113 0.126 0.135 0.14 0.14 0.14 0.14 0.14 0.14 0.14 0.14"/></feComponentTransfer></filter>
<filter id="f23" x="0" y="0" width="100%" height="100%" color-interpolation-filters="sRGB"><feTurbulence type="fractalNoise" baseFrequency="0.52" numOctaves="3" seed="96"/><feColorMatrix type="matrix" values="1 0 0 0 0  1 0 0 0 0  1 0 0 0 0  0 0 0 0 1" result="h"/><feTurbulence type="fractalNoise" baseFrequency="0.09" numOctaves="2" seed="196"/><feColorMatrix type="matrix" values="1 0 0 0 0  1 0 0 0 0  1 0 0 0 0  0 0 0 0 1" result="l"/><feComposite in="h" in2="l" operator="arithmetic" k1="0" k2="1" k3="0.3" k4="-0.15" result="n"/><feComponentTransfer><feFuncR type="table" tableValues="0.025 0.025 0.025 0.025 0.025 0.025 0.025 0.025 0.025 0.025 0.026 0.028 0.031 0.034 0.037 0.04 0.042 0.044 0.046 0.054 0.069 0.089 0.111 0.133 0.153 0.169 0.178 0.18 0.18 0.18 0.18 0.18 0.18"/><feFuncG type="table" tableValues="0.17 0.17 0.17 0.17 0.17 0.17 0.17 0.17 0.17 0.171 0.177 0.19 0.207 0.226 0.246 0.266 0.282 0.294 0.302 0.329 0.378 0.442 0.514 0.587 0.653 0.705 0.735 0.74 0.74 0.74 0.74 0.74 0.74"/><feFuncB type="table" tableValues="0.015 0.015 0.015 0.015 0.015 0.015 0.015 0.015 0.015 0.015 0.015 0.015 0.015 0.015 0.015 0.015 0.015 0.015 0.015 0.015 0.018 0.028 0.041 0.057 0.073 0.086 0.096 0.1 0.1 0.1 0.1 0.1 0.1"/></feComponentTransfer></filter>
<filter id="f24" x="0" y="0" width="100%" height="100%" color-interpolation-filters="sRGB"><feTurbulence type="fractalNoise" baseFrequency="0.33" numOctaves="3" seed="101"/><feColorMatrix type="matrix" values="1 0 0 0 0  1 0 0 0 0  1 0 0 0 0  0 0 0 0 1" result="h"/><feTurbulence type="fractalNoise" baseFrequency="0.09" numOctaves="2" seed="201"/><feColorMatrix type="matrix" values="1 0 0 0 0  1 0 0 0 0  1 0 0 0 0  0 0 0 0 1" result="l"/><feComposite in="h" in2="l" operator="arithmetic" k1="0" k2="1" k3="1" k4="-0.5" result="n"/><feComponentTransfer><feFuncR type="table" tableValues="0.01 0.01 0.01 0.01 0.01 0.01 0.01 0.01 0.01 0.01 0.01 0.011 0.011 0.012 0.013 0.013 0.014 0.015 0.015 0.016 0.017 0.017 0.018 0.018 0.018 0.018 0.018 0.018 0.018 0.018 0.018 0.018 0.018"/><feFuncG type="table" tableValues="0.045 0.045 0.045 0.045 0.045 0.045 0.045 0.045 0.045 0.045 0.046 0.046 0.047 0.048 0.05 0.051 0.052 0.054 0.055 0.057 0.058 0.059 0.059 0.06 0.06 0.06 0.06 0.06 0.06 0.06 0.06 0.06 0.06"/><feFuncB type="table" tableValues="0 0 0 0 0 0 0 0 0 0 0 0.001 0.001 0.001 0.002 0.002 0.003 0.004 0.004 0.005 0.005 0.005 0.006 0.006 0.006 0.006 0.006 0.006 0.006 0.006 0.006 0.006 0.006"/></feComponentTransfer></filter>
<filter id="f31" x="0" y="0" width="100%" height="100%" color-interpolation-filters="sRGB"><feTurbulence type="fractalNoise" baseFrequency="0.36" numOctaves="3" seed="106"/><feColorMatrix type="matrix" values="1 0 0 0 0  1 0 0 0 0  1 0 0 0 0  0 0 0 0 1" result="h"/><feTurbulence type="fractalNoise" baseFrequency="0.09" numOctaves="2" seed="206"/><feColorMatrix type="matrix" values="1 0 0 0 0  1 0 0 0 0  1 0 0 0 0  0 0 0 0 1" result="l"/><feComposite in="h" in2="l" operator="arithmetic" k1="0" k2="1" k3="0.35" k4="-0.17" result="n"/><feComponentTransfer><feFuncR type="table" tableValues="0.05 0.05 0.05 0.05 0.05 0.05 0.05 0.05 0.051 0.057 0.066 0.079 0.093 0.108 0.123 0.137 0.156 0.186 0.223 0.264 0.307 0.35 0.388 0.418 0.436 0.44 0.44 0.44 0.44 0.44 0.44 0.44 0.44"/><feFuncG type="table" tableValues="0.32 0.32 0.32 0.32 0.32 0.32 0.32 0.32 0.323 0.341 0.37 0.409 0.453 0.499 0.545 0.588 0.632 0.682 0.732 0.778 0.828 0.877 0.921 0.955 0.976 0.98 0.98 0.98 0.98 0.98 0.98 0.98 0.98"/><feFuncB type="table" tableValues="0.01 0.01 0.01 0.01 0.01 0.01 0.01 0.01 0.01 0.012 0.014 0.018 0.022 0.026 0.03 0.034 0.037 0.044 0.055 0.068 0.083 0.098 0.113 0.126 0.135 0.14 0.14 0.14 0.14 0.14 0.14 0.14 0.14"/></feComponentTransfer></filter>
<filter id="f32" x="0" y="0" width="100%" height="100%" color-interpolation-filters="sRGB"><feTurbulence type="fractalNoise" baseFrequency="0.42" numOctaves="3" seed="111"/><feColorMatrix type="matrix" values="1 0 0 0 0  1 0 0 0 0  1 0 0 0 0  0 0 0 0 1" result="h"/><feTurbulence type="fractalNoise" baseFrequency="0.09" numOctaves="2" seed="211"/><feColorMatrix type="matrix" values="1 0 0 0 0  1 0 0 0 0  1 0 0 0 0  0 0 0 0 1" result="l"/><feComposite in="h" in2="l" operator="arithmetic" k1="0" k2="1" k3="0.3" k4="-0.15" result="n"/><feComponentTransfer><feFuncR type="table" tableValues="0.03 0.03 0.03 0.03 0.03 0.03 0.03 0.03 0.031 0.035 0.042 0.051 0.061 0.072 0.083 0.093 0.105 0.13 0.164 0.203 0.248 0.293 0.334 0.369 0.392 0.4 0.4 0.4 0.4 0.4 0.4 0.4 0.4"/><feFuncG type="table" tableValues="0.28 0.28 0.28 0.28 0.28 0.28 0.28 0.28 0.283 0.298 0.324 0.358 0.397 0.438 0.479 0.516 0.552 0.599 0.65 0.702 0.761 0.819 0.874 0.919 0.949 0.96 0.96 0.96 0.96 0.96 0.96 0.96 0.96"/><feFuncB type="table" tableValues="0.01 0.01 0.01 0.01 0.01 0.01 0.01 0.01 0.01 0.012 0.014 0.018 0.022 0.026 0.03 0.034 0.037 0.044 0.055 0.068 0.083 0.098 0.113 0.126 0.135 0.14 0.14 0.14 0.14 0.14 0.14 0.14 0.14"/></feComponentTransfer></filter>
<filter id="f33" x="0" y="0" width="100%" height="100%" color-interpolation-filters="sRGB"><feTurbulence type="fractalNoise" baseFrequency="0.5" numOctaves="3" seed="116"/><feColorMatrix type="matrix" values="1 0 0 0 0  1 0 0 0 0  1 0 0 0 0  0 0 0 0 1" result="h"/><feTurbulence type="fractalNoise" baseFrequency="0.09" numOctaves="2" seed="216"/><feColorMatrix type="matrix" values="1 0 0 0 0  1 0 0 0 0  1 0 0 0 0  0 0 0 0 1" result="l"/><feComposite in="h" in2="l" operator="arithmetic" k1="0" k2="1" k3="0.3" k4="-0.15" result="n"/><feComponentTransfer><feFuncR type="table" tableValues="0.02 0.02 0.02 0.02 0.02 0.02 0.02 0.02 0.021 0.024 0.03 0.038 0.047 0.057 0.066 0.075 0.086 0.108 0.14 0.177 0.218 0.26 0.299 0.331 0.352 0.36 0.36 0.36 0.36 0.36 0.36 0.36 0.36"/><feFuncG type="table" tableValues="0.27 0.27 0.27 0.27 0.27 0.27 0.27 0.27 0.273 0.287 0.311 0.343 0.379 0.418 0.456 0.49 0.524 0.571 0.624 0.679 0.74 0.802 0.859 0.907 0.939 0.95 0.95 0.95 0.95 0.95 0.95 0.95 0.95"/><feFuncB type="table" tableValues="0.01 0.01 0.01 0.01 0.01 0.01 0.01 0.01 0.01 0.012 0.014 0.018 0.022 0.026 0.03 0.034 0.037 0.044 0.055 0.068 0.083 0.098 0.113 0.126 0.135 0.14 0.14 0.14 0.14 0.14 0.14 0.14 0.14"/></feComponentTransfer></filter>
<filter id="f34" x="0" y="0" width="100%" height="100%" color-interpolation-filters="sRGB"><feTurbulence type="fractalNoise" baseFrequency="0.66" numOctaves="3" seed="121"/><feColorMatrix type="matrix" values="1 0 0 0 0  1 0 0 0 0  1 0 0 0 0  0 0 0 0 1" result="h"/><feTurbulence type="fractalNoise" baseFrequency="0.09" numOctaves="2" seed="221"/><feColorMatrix type="matrix" values="1 0 0 0 0  1 0 0 0 0  1 0 0 0 0  0 0 0 0 1" result="l"/><feComposite in="h" in2="l" operator="arithmetic" k1="0" k2="1" k3="0.2" k4="-0.1" result="n"/><feComposite in="n" in2="SourceGraphic" operator="arithmetic" k1="0" k2="1" k3="0.4" k4="-0.2"/><feComponentTransfer><feFuncR type="table" tableValues="0 0 0 0 0 0 0 0 0 0 0 0 0 0 0 0 0 0.001 0.008 0.022 0.041 0.062 0.084 0.104 0.119 0.128 0.13 0.13 0.13 0.13 0.13 0.13 0.13"/><feFuncG type="table" tableValues="0.08 0.08 0.08 0.08 0.08 0.08 0.08 0.08 0.08 0.08 0.08 0.08 0.08 0.08 0.084 0.107 0.148 0.203 0.267 0.336 0.406 0.472 0.531 0.578 0.609 0.62 0.62 0.62 0.62 0.62 0.62 0.62 0.62"/><feFuncB type="table" tableValues="0 0 0 0 0 0 0 0 0 0 0 0 0 0 0 0 0 0 0 0 0 0.004 0.01 0.019 0.028 0.037 0.044 0.049 0.05 0.05 0.05 0.05 0.05"/></feComponentTransfer></filter>
</defs>
<clipPath id="kc11"><rect x="16" y="160" width="78.5" height="78.2"/></clipPath>
<g clip-path="url(#kc11)"><rect x="-60" y="-60" width="120" height="120" transform="translate(55.25 199.1) rotate(27)" fill="#808080" stroke="none" filter="url(#c11)"/></g>
<clipPath id="kc12"><rect x="97" y="160" width="78.5" height="78.2"/></clipPath>
<g clip-path="url(#kc12)"><rect x="-60" y="-60" width="120" height="120" transform="translate(136.25 199.1) rotate(-33)" fill="#808080" stroke="none" filter="url(#c12)"/></g>
<clipPath id="kc13"><rect x="178" y="160" width="78.5" height="78.2"/></clipPath>
<g clip-path="url(#kc13)"><rect x="-60" y="-60" width="120" height="120" transform="translate(217.25 199.1) rotate(38)" fill="#808080" stroke="none" filter="url(#c13)"/></g>
<clipPath id="kc14"><rect x="259" y="160" width="78.5" height="78.2"/></clipPath>
<linearGradient id="gc14" gradientUnits="userSpaceOnUse" gradientTransform="rotate(24)" x1="0" y1="-39" x2="0" y2="39"><stop offset="0" stop-color="rgb(76,76,76)"/><stop offset="1" stop-color="rgb(178,178,178)"/></linearGradient>
<g clip-path="url(#kc14)"><rect x="-60" y="-60" width="120" height="120" transform="translate(298.25 199.1) rotate(-24)" fill="url(#gc14)" stroke="none" filter="url(#c14)"/></g>
<clipPath id="kc21"><rect x="16" y="240.6" width="78.5" height="78.2"/></clipPath>
<g clip-path="url(#kc21)"><rect x="-60" y="-60" width="120" height="120" transform="translate(55.25 279.7) rotate(-33)" fill="#808080" stroke="none" filter="url(#c21)"/></g>
<clipPath id="kc22"><rect x="97" y="240.6" width="78.5" height="78.2"/></clipPath>
<g clip-path="url(#kc22)"><rect x="-60" y="-60" width="120" height="120" transform="translate(136.25 279.7) rotate(38)" fill="#808080" stroke="none" filter="url(#c22)"/></g>
<clipPath id="kc23"><rect x="178" y="240.6" width="78.5" height="78.2"/></clipPath>
<radialGradient id="gc23" gradientUnits="userSpaceOnUse" gradientTransform="rotate(24)" cx="4" cy="12" r="30"><stop offset="0" stop-color="rgb(204,204,204)"/><stop offset="1" stop-color="rgb(127,127,127)"/></radialGradient>
<g clip-path="url(#kc23)"><rect x="-60" y="-60" width="120" height="120" transform="translate(217.25 279.7) rotate(-24)" fill="url(#gc23)" stroke="none" filter="url(#c23)"/></g>
<clipPath id="kc24"><rect x="259" y="240.6" width="78.5" height="78.2"/></clipPath>
<g clip-path="url(#kc24)"><rect x="-60" y="-60" width="120" height="120" transform="translate(298.25 279.7) rotate(27)" fill="#808080" stroke="none" filter="url(#c24)"/></g>
<clipPath id="kc31"><rect x="16" y="321" width="78.5" height="78.4"/></clipPath>
<g clip-path="url(#kc31)"><rect x="-60" y="-60" width="120" height="120" transform="translate(55.25 360.2) rotate(38)" fill="#808080" stroke="none" filter="url(#c31)"/></g>
<clipPath id="kc32"><rect x="97" y="321" width="78.5" height="78.4"/></clipPath>
<g clip-path="url(#kc32)"><rect x="-60" y="-60" width="120" height="120" transform="translate(136.25 360.2) rotate(-24)" fill="#808080" stroke="none" filter="url(#c32)"/></g>
<clipPath id="kc33"><rect x="178" y="321" width="78.5" height="78.4"/></clipPath>
<g clip-path="url(#kc33)"><rect x="-60" y="-60" width="120" height="120" transform="translate(217.25 360.2) rotate(27)" fill="#808080" stroke="none" filter="url(#c33)"/></g>
<clipPath id="kc34"><rect x="259" y="321" width="78.5" height="78.4"/></clipPath>
<g clip-path="url(#kc34)"><rect x="-60" y="-60" width="120" height="120" transform="translate(298.25 360.2) rotate(-33)" fill="#808080" stroke="none" filter="url(#c34)"/></g>
<clipPath id="kf11"><rect x="362" y="160" width="78.5" height="78.2"/></clipPath>
<g clip-path="url(#kf11)"><rect x="-60" y="-60" width="120" height="120" transform="translate(401.25 199.1) rotate(27)" fill="#808080" stroke="none" filter="url(#f11)"/></g>
<clipPath id="kf12"><rect x="443.2" y="160" width="78.5" height="78.2"/></clipPath>
<g clip-path="url(#kf12)"><rect x="-60" y="-60" width="120" height="120" transform="translate(482.45 199.1) rotate(-33)" fill="#808080" stroke="none" filter="url(#f12)"/></g>
<clipPath id="kf13"><rect x="524.5" y="160" width="78.5" height="78.2"/></clipPath>
<g clip-path="url(#kf13)"><rect x="-60" y="-60" width="120" height="120" transform="translate(563.75 199.1) rotate(38)" fill="#808080" stroke="none" filter="url(#f13)"/></g>
<clipPath id="kf14"><rect x="605.8" y="160" width="78.5" height="78.2"/></clipPath>
<g clip-path="url(#kf14)"><rect x="-60" y="-60" width="120" height="120" transform="translate(645.05 199.1) rotate(-24)" fill="#808080" stroke="none" filter="url(#f14)"/></g>
<clipPath id="kf21"><rect x="362" y="240.6" width="78.5" height="78.2"/></clipPath>
<g clip-path="url(#kf21)"><rect x="-60" y="-60" width="120" height="120" transform="translate(401.25 279.7) rotate(-33)" fill="#808080" stroke="none" filter="url(#f21)"/></g>
<clipPath id="kf22"><rect x="443.2" y="240.6" width="78.5" height="78.2"/></clipPath>
<g clip-path="url(#kf22)"><rect x="-60" y="-60" width="120" height="120" transform="translate(482.45 279.7) rotate(38)" fill="#808080" stroke="none" filter="url(#f22)"/></g>
<clipPath id="kf23"><rect x="524.5" y="240.6" width="78.5" height="78.2"/></clipPath>
<g clip-path="url(#kf23)"><rect x="-60" y="-60" width="120" height="120" transform="translate(563.75 279.7) rotate(-24)" fill="#808080" stroke="none" filter="url(#f23)"/></g>
<clipPath id="kf24"><rect x="605.8" y="240.6" width="78.5" height="78.2"/></clipPath>
<g clip-path="url(#kf24)"><rect x="-60" y="-60" width="120" height="120" transform="translate(645.05 279.7) rotate(27)" fill="#808080" stroke="none" filter="url(#f24)"/></g>
<clipPath id="kf31"><rect x="362" y="321" width="78.5" height="78.4"/></clipPath>
<g clip-path="url(#kf31)"><rect x="-60" y="-60" width="120" height="120" transform="translate(401.25 360.2) rotate(38)" fill="#808080" stroke="none" filter="url(#f31)"/></g>
<clipPath id="kf32"><rect x="443.2" y="321" width="78.5" height="78.4"/></clipPath>
<g clip-path="url(#kf32)"><rect x="-60" y="-60" width="120" height="120" transform="translate(482.45 360.2) rotate(-24)" fill="#808080" stroke="none" filter="url(#f32)"/></g>
<clipPath id="kf33"><rect x="524.5" y="321" width="78.5" height="78.4"/></clipPath>
<g clip-path="url(#kf33)"><rect x="-60" y="-60" width="120" height="120" transform="translate(563.75 360.2) rotate(27)" fill="#808080" stroke="none" filter="url(#f33)"/></g>
<clipPath id="kf34"><rect x="605.8" y="321" width="78.5" height="78.4"/></clipPath>
<linearGradient id="gf34" gradientUnits="userSpaceOnUse" gradientTransform="rotate(33)" x1="-35" y1="35" x2="35" y2="-35"><stop offset="0" stop-color="rgb(173,173,173)"/><stop offset="1" stop-color="rgb(81,81,81)"/></linearGradient>
<g clip-path="url(#kf34)"><rect x="-60" y="-60" width="120" height="120" transform="translate(645.05 360.2) rotate(-33)" fill="url(#gf34)" stroke="none" filter="url(#f34)"/></g>
<text x="54.6" y="158.6" font-size="10" text-anchor="middle" fill="#111">P1</text>
<text x="134.7" y="158.6" font-size="10" text-anchor="middle" fill="#111">P5</text>
<text x="220.9" y="158.6" font-size="10" text-anchor="middle" fill="#111">P10</text>
<text x="302.7" y="158.6" font-size="10" text-anchor="middle" fill="#111">P15</text>
<text x="401" y="158.6" font-size="10" text-anchor="middle" fill="#111">P1</text>
<text x="480.9" y="158.6" font-size="10" text-anchor="middle" fill="#111">P5</text>
<text x="567.1" y="158.6" font-size="10" text-anchor="middle" fill="#111">P10</text>
<text x="649" y="158.6" font-size="10" text-anchor="middle" fill="#111">P15</text>
<text transform="translate(12.4 204.3) rotate(-90)" font-size="9.8" text-anchor="middle" fill="#111">AcGFP</text>
<text transform="translate(12.4 279.3) rotate(-90)" font-size="9.8" text-anchor="middle" fill="#111">AcGFP-op166-lef5</text>
<text transform="translate(12.4 358.7) rotate(-90)" font-size="9.8" text-anchor="middle" fill="#111">AcGFP-p10-lef5</text>
<text transform="translate(357.4 204.3) rotate(-90)" font-size="9.8" text-anchor="middle" fill="#111">AcGFP</text>
<text transform="translate(357.4 279.3) rotate(-90)" font-size="9.8" text-anchor="middle" fill="#111">AcGFP-op166-lef5</text>
<text transform="translate(357.4 358.7) rotate(-90)" font-size="9.8" text-anchor="middle" fill="#111">AcGFP-p10-lef5</text>
</g>
</svg>
</body></html>
